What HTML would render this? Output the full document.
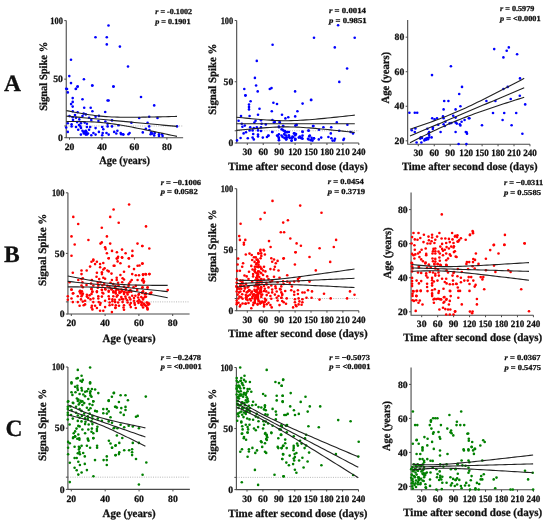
<!DOCTYPE html>
<html><head><meta charset="utf-8"><style>
html,body{margin:0;padding:0;background:#fff;}
svg{display:block;will-change:transform;}
text{font-family:"Liberation Serif", serif;font-weight:bold;text-rendering:geometricPrecision;}
</style></head><body>
<svg width="550" height="522" viewBox="0 0 550 522">
<g fill="#111"><line x1="66.25" y1="125.99" x2="183.14" y2="125.99" stroke="#999" stroke-width="0.7" stroke-dasharray="1,1.3"/>
<path d="M66.25,20.60V137.70H183.14" fill="none" stroke="#4a4a4a" stroke-width="1.1"/>
<line x1="64.25" y1="137.70" x2="66.25" y2="137.70" stroke="#4a4a4a" stroke-width="1"/>
<text x="62.85" y="140.90" text-anchor="end" font-size="9.7" stroke="#111" stroke-width="0.28">0</text>
<line x1="64.25" y1="125.99" x2="66.25" y2="125.99" stroke="#4a4a4a" stroke-width="1"/>
<line x1="64.25" y1="79.15" x2="66.25" y2="79.15" stroke="#4a4a4a" stroke-width="1"/>
<text x="62.85" y="82.35" text-anchor="end" font-size="9.7" stroke="#111" stroke-width="0.28">50</text>
<line x1="64.25" y1="20.60" x2="66.25" y2="20.60" stroke="#4a4a4a" stroke-width="1"/>
<text x="62.85" y="23.80" text-anchor="end" font-size="9.7" textLength="12.6" lengthAdjust="spacingAndGlyphs" stroke="#111" stroke-width="0.28">100</text>
<line x1="69.50" y1="137.70" x2="69.50" y2="139.70" stroke="#4a4a4a" stroke-width="1"/>
<text x="69.50" y="149.80" text-anchor="middle" font-size="9.7" stroke="#111" stroke-width="0.28">20</text>
<line x1="101.97" y1="137.70" x2="101.97" y2="139.70" stroke="#4a4a4a" stroke-width="1"/>
<text x="101.97" y="149.80" text-anchor="middle" font-size="9.7" stroke="#111" stroke-width="0.28">40</text>
<line x1="134.44" y1="137.70" x2="134.44" y2="139.70" stroke="#4a4a4a" stroke-width="1"/>
<text x="134.44" y="149.80" text-anchor="middle" font-size="9.7" stroke="#111" stroke-width="0.28">60</text>
<line x1="166.91" y1="137.70" x2="166.91" y2="139.70" stroke="#4a4a4a" stroke-width="1"/>
<text x="166.91" y="149.80" text-anchor="middle" font-size="9.7" stroke="#111" stroke-width="0.28">80</text>
<text x="99.30" y="163.70" font-size="11.2" textLength="50.60" lengthAdjust="spacingAndGlyphs" stroke="#111" stroke-width="0.28">Age (years)</text>
<text transform="translate(47.36,76.30) rotate(-90)" text-anchor="middle" font-size="11.2" textLength="69.00" lengthAdjust="spacingAndGlyphs" stroke="#111" stroke-width="0.28">Signal Spike %</text>
<text x="155.20" y="13.70" font-size="7.6" textLength="36.90" lengthAdjust="spacingAndGlyphs" stroke="#111" stroke-width="0.28"><tspan font-style="italic">r</tspan> = -0.1002</text>
<text x="155.20" y="23.50" font-size="7.6" textLength="35.30" lengthAdjust="spacingAndGlyphs" stroke="#111" stroke-width="0.28"><tspan font-style="italic">p</tspan> = 0.1901</text></g>
<g fill="#0000ff"><circle cx="108.5" cy="25.5" r="1.3"/><circle cx="95.5" cy="37.2" r="1.3"/><circle cx="106.8" cy="37.2" r="1.3"/><circle cx="106.8" cy="44.4" r="1.3"/><circle cx="119.9" cy="46.6" r="1.3"/><circle cx="71.0" cy="59.7" r="1.3"/><circle cx="128.0" cy="66.5" r="1.3"/><circle cx="69.3" cy="76.1" r="1.3"/><circle cx="83.9" cy="79.3" r="1.3"/><circle cx="71.0" cy="83.1" r="1.3"/><circle cx="77.6" cy="86.5" r="1.3"/><circle cx="92.2" cy="85.5" r="1.3"/><circle cx="113.3" cy="86.5" r="1.3"/><circle cx="75.8" cy="89.0" r="1.3"/><circle cx="67.0" cy="89.0" r="1.3"/><circle cx="66.2" cy="88.8" r="1.3"/><circle cx="67.8" cy="92.4" r="1.3"/><circle cx="76.0" cy="88.8" r="1.3"/><circle cx="77.6" cy="86.6" r="1.3"/><circle cx="92.4" cy="85.5" r="1.3"/><circle cx="113.6" cy="86.6" r="1.3"/><circle cx="72.7" cy="98.1" r="1.3"/><circle cx="82.5" cy="99.2" r="1.3"/><circle cx="107.6" cy="100.5" r="1.3"/><circle cx="108.6" cy="100.5" r="1.3"/><circle cx="72.7" cy="101.9" r="1.3"/><circle cx="71.1" cy="104.1" r="1.3"/><circle cx="72.7" cy="106.6" r="1.3"/><circle cx="84.2" cy="107.7" r="1.3"/><circle cx="90.7" cy="107.7" r="1.3"/><circle cx="92.4" cy="111.2" r="1.3"/><circle cx="105.2" cy="112.0" r="1.3"/><circle cx="72.7" cy="111.2" r="1.3"/><circle cx="77.6" cy="112.3" r="1.3"/><circle cx="83.6" cy="113.6" r="1.3"/><circle cx="85.8" cy="114.4" r="1.3"/><circle cx="69.5" cy="116.1" r="1.3"/><circle cx="72.7" cy="117.2" r="1.3"/><circle cx="76.0" cy="117.7" r="1.3"/><circle cx="82.5" cy="116.1" r="1.3"/><circle cx="89.1" cy="117.7" r="1.3"/><circle cx="95.6" cy="116.8" r="1.3"/><circle cx="98.9" cy="115.9" r="1.3"/><circle cx="79.3" cy="119.4" r="1.3"/><circle cx="91.3" cy="119.9" r="1.3"/><circle cx="98.4" cy="121.0" r="1.3"/><circle cx="112.0" cy="120.4" r="1.3"/><circle cx="67.8" cy="123.2" r="1.3"/><circle cx="71.6" cy="124.3" r="1.3"/><circle cx="77.1" cy="122.1" r="1.3"/><circle cx="80.9" cy="123.2" r="1.3"/><circle cx="84.7" cy="122.6" r="1.3"/><circle cx="86.9" cy="123.7" r="1.3"/><circle cx="105.4" cy="121.5" r="1.3"/><circle cx="107.6" cy="123.7" r="1.3"/><circle cx="118.5" cy="125.3" r="1.3"/><circle cx="66.2" cy="127.5" r="1.3"/><circle cx="71.6" cy="126.4" r="1.3"/><circle cx="76.0" cy="127.0" r="1.3"/><circle cx="80.4" cy="126.4" r="1.3"/><circle cx="86.9" cy="127.0" r="1.3"/><circle cx="90.2" cy="127.0" r="1.3"/><circle cx="95.6" cy="128.1" r="1.3"/><circle cx="102.2" cy="127.0" r="1.3"/><circle cx="107.6" cy="126.4" r="1.3"/><circle cx="112.0" cy="126.4" r="1.3"/><circle cx="78.2" cy="129.7" r="1.3"/><circle cx="82.5" cy="130.8" r="1.3"/><circle cx="85.8" cy="130.8" r="1.3"/><circle cx="89.1" cy="129.7" r="1.3"/><circle cx="103.3" cy="129.2" r="1.3"/><circle cx="67.8" cy="131.9" r="1.3"/><circle cx="83.6" cy="132.4" r="1.3"/><circle cx="85.8" cy="133.0" r="1.3"/><circle cx="88.0" cy="133.5" r="1.3"/><circle cx="93.4" cy="133.0" r="1.3"/><circle cx="98.9" cy="131.9" r="1.3"/><circle cx="102.7" cy="133.0" r="1.3"/><circle cx="106.5" cy="133.0" r="1.3"/><circle cx="114.2" cy="131.9" r="1.3"/><circle cx="117.4" cy="130.8" r="1.3"/><circle cx="120.7" cy="133.0" r="1.3"/><circle cx="123.4" cy="134.6" r="1.3"/><circle cx="80.9" cy="134.6" r="1.3"/><circle cx="85.8" cy="134.6" r="1.3"/><circle cx="91.3" cy="135.2" r="1.3"/><circle cx="95.6" cy="134.6" r="1.3"/><circle cx="102.2" cy="135.2" r="1.3"/><circle cx="108.7" cy="134.6" r="1.3"/><circle cx="116.3" cy="133.5" r="1.3"/><circle cx="84.5" cy="131.5" r="1.3"/><circle cx="86.5" cy="132.0" r="1.3"/><circle cx="84.0" cy="133.5" r="1.3"/><circle cx="87.0" cy="134.5" r="1.3"/><circle cx="81.0" cy="128.0" r="1.3"/><circle cx="79.0" cy="125.0" r="1.3"/><circle cx="73.0" cy="120.0" r="1.3"/><circle cx="75.0" cy="115.0" r="1.3"/><circle cx="141.0" cy="97.0" r="1.3"/><circle cx="154.2" cy="105.4" r="1.3"/><circle cx="139.2" cy="118.0" r="1.3"/><circle cx="149.2" cy="116.8" r="1.3"/><circle cx="157.5" cy="118.0" r="1.3"/><circle cx="131.4" cy="122.8" r="1.3"/><circle cx="147.6" cy="122.8" r="1.3"/><circle cx="149.2" cy="126.4" r="1.3"/><circle cx="177.0" cy="126.4" r="1.3"/><circle cx="145.8" cy="128.8" r="1.3"/><circle cx="149.4" cy="130.0" r="1.3"/><circle cx="142.8" cy="132.4" r="1.3"/><circle cx="151.2" cy="132.4" r="1.3"/><circle cx="150.6" cy="134.2" r="1.3"/><circle cx="154.8" cy="133.0" r="1.3"/><circle cx="154.2" cy="135.4" r="1.3"/><circle cx="159.0" cy="134.2" r="1.3"/><circle cx="162.0" cy="134.2" r="1.3"/><circle cx="121.2" cy="134.2" r="1.3"/><circle cx="123.0" cy="134.2" r="1.3"/><circle cx="128.4" cy="134.2" r="1.3"/><circle cx="129.6" cy="133.0" r="1.3"/><circle cx="159.0" cy="136.0" r="1.3"/><circle cx="162.6" cy="136.0" r="1.3"/><circle cx="152.4" cy="133.6" r="1.3"/></g>
<g><path d="M66.40,110.60 L69.24,111.15 L72.07,111.70 L74.91,112.23 L77.74,112.76 L80.58,113.26 L83.42,113.75 L86.25,114.22 L89.09,114.67 L91.92,115.08 L94.76,115.46 L97.59,115.81 L100.43,116.12 L103.27,116.38 L106.10,116.61 L108.94,116.80 L111.77,116.95 L114.61,117.06 L117.45,117.15 L120.28,117.21 L123.12,117.26 L125.95,117.28 L128.79,117.29 L131.63,117.28 L134.46,117.27 L137.30,117.24 L140.13,117.21 L142.97,117.17 L145.81,117.12 L148.64,117.07 L151.48,117.02 L154.31,116.96 L157.15,116.90 L159.98,116.83 L162.82,116.76 L165.66,116.70 L168.49,116.62 L171.33,116.55 L174.16,116.48 L177.00,116.40" fill="none" stroke="#222" stroke-width="1.1"/>
<path d="M66.40,116.10 L69.24,116.36 L72.07,116.63 L74.91,116.89 L77.74,117.16 L80.58,117.42 L83.42,117.68 L86.25,117.95 L89.09,118.21 L91.92,118.48 L94.76,118.74 L97.59,119.01 L100.43,119.27 L103.27,119.53 L106.10,119.80 L108.94,120.06 L111.77,120.33 L114.61,120.59 L117.45,120.85 L120.28,121.12 L123.12,121.38 L125.95,121.65 L128.79,121.91 L131.63,122.17 L134.46,122.44 L137.30,122.70 L140.13,122.97 L142.97,123.23 L145.81,123.49 L148.64,123.76 L151.48,124.02 L154.31,124.29 L157.15,124.55 L159.98,124.82 L162.82,125.08 L165.66,125.34 L168.49,125.61 L171.33,125.87 L174.16,126.14 L177.00,126.40" fill="none" stroke="#222" stroke-width="1.1"/>
<path d="M66.40,121.60 L69.24,121.57 L72.07,121.56 L74.91,121.55 L77.74,121.56 L80.58,121.58 L83.42,121.62 L86.25,121.68 L89.09,121.76 L91.92,121.87 L94.76,122.02 L97.59,122.20 L100.43,122.42 L103.27,122.68 L106.10,122.99 L108.94,123.33 L111.77,123.71 L114.61,124.12 L117.45,124.56 L120.28,125.02 L123.12,125.51 L125.95,126.01 L128.79,126.53 L131.63,127.07 L134.46,127.61 L137.30,128.17 L140.13,128.73 L142.97,129.29 L145.81,129.87 L148.64,130.45 L151.48,131.03 L154.31,131.62 L157.15,132.21 L159.98,132.80 L162.82,133.39 L165.66,133.99 L168.49,134.59 L171.33,135.19 L174.16,135.80 L177.00,136.40" fill="none" stroke="#222" stroke-width="1.1"/></g>
<g fill="#111"><line x1="236.68" y1="130.75" x2="358.81" y2="130.75" stroke="#999" stroke-width="0.7" stroke-dasharray="1,1.3"/>
<path d="M236.68,20.50V143.00H358.81" fill="none" stroke="#4a4a4a" stroke-width="1.1"/>
<line x1="234.68" y1="143.00" x2="236.68" y2="143.00" stroke="#4a4a4a" stroke-width="1"/>
<text x="233.28" y="146.20" text-anchor="end" font-size="9.7" stroke="#111" stroke-width="0.28">0</text>
<line x1="234.68" y1="130.75" x2="236.68" y2="130.75" stroke="#4a4a4a" stroke-width="1"/>
<line x1="234.68" y1="81.75" x2="236.68" y2="81.75" stroke="#4a4a4a" stroke-width="1"/>
<text x="233.28" y="84.95" text-anchor="end" font-size="9.7" stroke="#111" stroke-width="0.28">50</text>
<line x1="234.68" y1="20.50" x2="236.68" y2="20.50" stroke="#4a4a4a" stroke-width="1"/>
<text x="233.28" y="23.70" text-anchor="end" font-size="9.7" textLength="12.6" lengthAdjust="spacingAndGlyphs" stroke="#111" stroke-width="0.28">100</text>
<line x1="247.30" y1="143.00" x2="247.30" y2="145.00" stroke="#4a4a4a" stroke-width="1"/>
<text x="247.30" y="155.10" text-anchor="middle" font-size="9.7" stroke="#111" stroke-width="0.28">30</text>
<line x1="263.23" y1="143.00" x2="263.23" y2="145.00" stroke="#4a4a4a" stroke-width="1"/>
<text x="263.23" y="155.10" text-anchor="middle" font-size="9.7" stroke="#111" stroke-width="0.28">60</text>
<line x1="279.16" y1="143.00" x2="279.16" y2="145.00" stroke="#4a4a4a" stroke-width="1"/>
<text x="279.16" y="155.10" text-anchor="middle" font-size="9.7" stroke="#111" stroke-width="0.28">90</text>
<line x1="295.09" y1="143.00" x2="295.09" y2="145.00" stroke="#4a4a4a" stroke-width="1"/>
<text x="295.09" y="155.10" text-anchor="middle" font-size="9.7" textLength="13.6" lengthAdjust="spacingAndGlyphs" stroke="#111" stroke-width="0.28">120</text>
<line x1="311.02" y1="143.00" x2="311.02" y2="145.00" stroke="#4a4a4a" stroke-width="1"/>
<text x="311.02" y="155.10" text-anchor="middle" font-size="9.7" textLength="13.6" lengthAdjust="spacingAndGlyphs" stroke="#111" stroke-width="0.28">150</text>
<line x1="326.95" y1="143.00" x2="326.95" y2="145.00" stroke="#4a4a4a" stroke-width="1"/>
<text x="326.95" y="155.10" text-anchor="middle" font-size="9.7" textLength="13.6" lengthAdjust="spacingAndGlyphs" stroke="#111" stroke-width="0.28">180</text>
<line x1="342.88" y1="143.00" x2="342.88" y2="145.00" stroke="#4a4a4a" stroke-width="1"/>
<text x="342.88" y="155.10" text-anchor="middle" font-size="9.7" textLength="13.6" lengthAdjust="spacingAndGlyphs" stroke="#111" stroke-width="0.28">210</text>
<line x1="358.81" y1="143.00" x2="358.81" y2="145.00" stroke="#4a4a4a" stroke-width="1"/>
<text x="358.81" y="155.10" text-anchor="middle" font-size="9.7" textLength="13.6" lengthAdjust="spacingAndGlyphs" stroke="#111" stroke-width="0.28">240</text>
<text x="228.30" y="169.70" font-size="11.2" textLength="139.50" lengthAdjust="spacingAndGlyphs" stroke="#111" stroke-width="0.28">Time after second dose (days)</text>
<text transform="translate(216.46,79.15) rotate(-90)" text-anchor="middle" font-size="11.2" textLength="71.00" lengthAdjust="spacingAndGlyphs" stroke="#111" stroke-width="0.28">Signal Spike %</text>
<text x="329.00" y="12.90" font-size="7.6" textLength="37.00" lengthAdjust="spacingAndGlyphs" stroke="#111" stroke-width="0.28"><tspan font-style="italic">r</tspan> = 0.0014</text>
<text x="329.00" y="22.90" font-size="7.6" textLength="37.60" lengthAdjust="spacingAndGlyphs" stroke="#111" stroke-width="0.28"><tspan font-style="italic">p</tspan> = 0.9851</text></g>
<g fill="#0000ff"><circle cx="338.1" cy="25.2" r="1.3"/><circle cx="314.0" cy="37.7" r="1.3"/><circle cx="354.7" cy="37.7" r="1.3"/><circle cx="272.6" cy="44.8" r="1.3"/><circle cx="334.8" cy="47.4" r="1.3"/><circle cx="256.8" cy="60.9" r="1.3"/><circle cx="347.1" cy="68.5" r="1.3"/><circle cx="254.9" cy="77.9" r="1.3"/><circle cx="339.3" cy="81.9" r="1.3"/><circle cx="256.1" cy="85.5" r="1.3"/><circle cx="244.3" cy="89.0" r="1.3"/><circle cx="271.5" cy="88.1" r="1.3"/><circle cx="269.8" cy="89.0" r="1.3"/><circle cx="257.7" cy="91.4" r="1.3"/><circle cx="295.1" cy="91.4" r="1.3"/><circle cx="245.5" cy="95.2" r="1.3"/><circle cx="311.2" cy="99.9" r="1.3"/><circle cx="245.4" cy="95.6" r="1.3"/><circle cx="250.6" cy="101.2" r="1.3"/><circle cx="249.0" cy="104.6" r="1.3"/><circle cx="249.0" cy="107.0" r="1.3"/><circle cx="249.0" cy="109.4" r="1.3"/><circle cx="259.5" cy="108.8" r="1.3"/><circle cx="273.4" cy="102.8" r="1.3"/><circle cx="277.0" cy="104.0" r="1.3"/><circle cx="271.8" cy="111.2" r="1.3"/><circle cx="297.4" cy="111.2" r="1.3"/><circle cx="241.0" cy="116.0" r="1.3"/><circle cx="249.6" cy="116.0" r="1.3"/><circle cx="258.0" cy="114.8" r="1.3"/><circle cx="282.0" cy="114.8" r="1.3"/><circle cx="285.4" cy="118.4" r="1.3"/><circle cx="288.3" cy="117.2" r="1.3"/><circle cx="295.2" cy="116.4" r="1.3"/><circle cx="238.6" cy="120.8" r="1.3"/><circle cx="255.6" cy="120.8" r="1.3"/><circle cx="261.0" cy="120.2" r="1.3"/><circle cx="272.4" cy="120.0" r="1.3"/><circle cx="274.8" cy="122.0" r="1.3"/><circle cx="279.6" cy="122.0" r="1.3"/><circle cx="241.8" cy="123.8" r="1.3"/><circle cx="244.8" cy="125.6" r="1.3"/><circle cx="254.4" cy="122.6" r="1.3"/><circle cx="261.6" cy="123.8" r="1.3"/><circle cx="265.8" cy="124.4" r="1.3"/><circle cx="283.2" cy="126.0" r="1.3"/><circle cx="296.4" cy="125.0" r="1.3"/><circle cx="242.4" cy="126.8" r="1.3"/><circle cx="250.2" cy="127.2" r="1.3"/><circle cx="253.8" cy="128.0" r="1.3"/><circle cx="256.8" cy="127.4" r="1.3"/><circle cx="261.0" cy="127.2" r="1.3"/><circle cx="279.0" cy="127.2" r="1.3"/><circle cx="249.6" cy="130.4" r="1.3"/><circle cx="252.6" cy="130.4" r="1.3"/><circle cx="258.0" cy="130.4" r="1.3"/><circle cx="261.0" cy="131.0" r="1.3"/><circle cx="282.6" cy="129.8" r="1.3"/><circle cx="285.0" cy="131.0" r="1.3"/><circle cx="246.0" cy="132.2" r="1.3"/><circle cx="243.6" cy="133.4" r="1.3"/><circle cx="253.2" cy="134.0" r="1.3"/><circle cx="258.0" cy="134.6" r="1.3"/><circle cx="272.4" cy="132.0" r="1.3"/><circle cx="286.8" cy="132.2" r="1.3"/><circle cx="294.6" cy="133.4" r="1.3"/><circle cx="284.4" cy="134.6" r="1.3"/><circle cx="252.6" cy="137.6" r="1.3"/><circle cx="258.0" cy="136.4" r="1.3"/><circle cx="262.8" cy="137.6" r="1.3"/><circle cx="268.2" cy="135.8" r="1.3"/><circle cx="267.0" cy="137.0" r="1.3"/><circle cx="277.8" cy="135.8" r="1.3"/><circle cx="278.7" cy="137.6" r="1.3"/><circle cx="282.6" cy="137.0" r="1.3"/><circle cx="286.2" cy="137.6" r="1.3"/><circle cx="289.2" cy="137.0" r="1.3"/><circle cx="293.4" cy="137.0" r="1.3"/><circle cx="298.8" cy="137.6" r="1.3"/><circle cx="240.6" cy="138.0" r="1.3"/><circle cx="247.8" cy="138.2" r="1.3"/><circle cx="253.8" cy="139.4" r="1.3"/><circle cx="279.0" cy="140.0" r="1.3"/><circle cx="286.2" cy="139.4" r="1.3"/><circle cx="291.6" cy="140.6" r="1.3"/><circle cx="295.2" cy="139.4" r="1.3"/><circle cx="237.0" cy="140.4" r="1.3"/><circle cx="311.0" cy="100.0" r="1.3"/><circle cx="302.6" cy="103.6" r="1.3"/><circle cx="296.6" cy="124.8" r="1.3"/><circle cx="313.4" cy="126.0" r="1.3"/><circle cx="323.4" cy="127.2" r="1.3"/><circle cx="331.2" cy="127.2" r="1.3"/><circle cx="336.8" cy="122.4" r="1.3"/><circle cx="347.4" cy="124.8" r="1.3"/><circle cx="302.6" cy="132.0" r="1.3"/><circle cx="308.6" cy="130.8" r="1.3"/><circle cx="319.0" cy="129.8" r="1.3"/><circle cx="330.8" cy="133.4" r="1.3"/><circle cx="339.2" cy="130.8" r="1.3"/><circle cx="350.6" cy="132.0" r="1.3"/><circle cx="353.0" cy="133.4" r="1.3"/><circle cx="300.2" cy="137.0" r="1.3"/><circle cx="302.0" cy="138.2" r="1.3"/><circle cx="309.2" cy="136.4" r="1.3"/><circle cx="308.6" cy="139.4" r="1.3"/><circle cx="311.6" cy="140.0" r="1.3"/><circle cx="314.0" cy="138.2" r="1.3"/><circle cx="318.8" cy="139.4" r="1.3"/><circle cx="321.2" cy="137.6" r="1.3"/><circle cx="328.4" cy="137.0" r="1.3"/><circle cx="331.4" cy="138.2" r="1.3"/><circle cx="332.6" cy="140.6" r="1.3"/><circle cx="335.0" cy="138.8" r="1.3"/><circle cx="334.4" cy="140.6" r="1.3"/><circle cx="344.0" cy="138.8" r="1.3"/><circle cx="343.4" cy="140.0" r="1.3"/><circle cx="296.0" cy="134.0" r="1.3"/><circle cx="273.9" cy="122.5" r="1.3"/><circle cx="279.8" cy="122.5" r="1.3"/><circle cx="278.9" cy="126.5" r="1.3"/><circle cx="283.0" cy="126.1" r="1.3"/><circle cx="295.3" cy="125.6" r="1.3"/><circle cx="313.0" cy="126.1" r="1.3"/><circle cx="272.1" cy="132.0" r="1.3"/><circle cx="281.6" cy="129.3" r="1.3"/><circle cx="283.5" cy="130.6" r="1.3"/><circle cx="285.3" cy="132.0" r="1.3"/><circle cx="287.1" cy="132.0" r="1.3"/><circle cx="288.9" cy="132.0" r="1.3"/><circle cx="293.9" cy="133.4" r="1.3"/><circle cx="302.5" cy="131.5" r="1.3"/><circle cx="308.5" cy="130.6" r="1.3"/><circle cx="268.5" cy="135.6" r="1.3"/><circle cx="277.1" cy="135.6" r="1.3"/><circle cx="278.9" cy="134.3" r="1.3"/><circle cx="281.6" cy="135.6" r="1.3"/><circle cx="284.4" cy="133.8" r="1.3"/><circle cx="286.2" cy="135.6" r="1.3"/><circle cx="288.9" cy="135.2" r="1.3"/><circle cx="292.5" cy="136.5" r="1.3"/><circle cx="295.3" cy="135.2" r="1.3"/><circle cx="299.8" cy="136.5" r="1.3"/><circle cx="302.5" cy="135.6" r="1.3"/><circle cx="309.8" cy="135.6" r="1.3"/><circle cx="278.9" cy="137.9" r="1.3"/><circle cx="284.4" cy="137.9" r="1.3"/><circle cx="287.1" cy="137.5" r="1.3"/><circle cx="289.8" cy="137.9" r="1.3"/><circle cx="292.1" cy="137.9" r="1.3"/><circle cx="295.3" cy="138.8" r="1.3"/><circle cx="300.7" cy="137.9" r="1.3"/><circle cx="302.5" cy="138.8" r="1.3"/><circle cx="308.0" cy="138.8" r="1.3"/><circle cx="311.6" cy="137.9" r="1.3"/><circle cx="313.9" cy="138.4" r="1.3"/><circle cx="278.9" cy="140.2" r="1.3"/><circle cx="286.2" cy="139.3" r="1.3"/><circle cx="291.6" cy="140.6" r="1.3"/><circle cx="295.3" cy="139.7" r="1.3"/><circle cx="310.7" cy="140.2" r="1.3"/><circle cx="312.5" cy="140.6" r="1.3"/></g>
<g><path d="M236.40,117.20 L239.44,117.51 L242.47,117.82 L245.51,118.12 L248.54,118.42 L251.58,118.71 L254.62,118.99 L257.65,119.26 L260.69,119.51 L263.72,119.75 L266.76,119.97 L269.79,120.17 L272.83,120.35 L275.87,120.49 L278.90,120.60 L281.94,120.68 L284.97,120.71 L288.01,120.71 L291.05,120.66 L294.08,120.57 L297.12,120.45 L300.15,120.30 L303.19,120.11 L306.23,119.91 L309.26,119.68 L312.30,119.44 L315.33,119.18 L318.37,118.91 L321.41,118.62 L324.44,118.33 L327.48,118.04 L330.51,117.73 L333.55,117.42 L336.58,117.11 L339.62,116.79 L342.66,116.47 L345.69,116.14 L348.73,115.81 L351.76,115.48 L354.80,115.15" fill="none" stroke="#222" stroke-width="1.1"/>
<path d="M236.40,123.80 L239.44,123.80 L242.47,123.80 L245.51,123.80 L248.54,123.80 L251.58,123.80 L254.62,123.80 L257.65,123.80 L260.69,123.80 L263.72,123.80 L266.76,123.80 L269.79,123.80 L272.83,123.80 L275.87,123.80 L278.90,123.80 L281.94,123.80 L284.97,123.80 L288.01,123.80 L291.05,123.80 L294.08,123.80 L297.12,123.80 L300.15,123.80 L303.19,123.80 L306.23,123.80 L309.26,123.80 L312.30,123.80 L315.33,123.80 L318.37,123.80 L321.41,123.80 L324.44,123.80 L327.48,123.80 L330.51,123.80 L333.55,123.80 L336.58,123.80 L339.62,123.80 L342.66,123.80 L345.69,123.80 L348.73,123.80 L351.76,123.80 L354.80,123.80" fill="none" stroke="#222" stroke-width="1.1"/>
<path d="M236.40,130.40 L239.44,130.09 L242.47,129.78 L245.51,129.48 L248.54,129.18 L251.58,128.89 L254.62,128.61 L257.65,128.34 L260.69,128.09 L263.72,127.85 L266.76,127.63 L269.79,127.43 L272.83,127.25 L275.87,127.11 L278.90,127.00 L281.94,126.92 L284.97,126.89 L288.01,126.89 L291.05,126.94 L294.08,127.03 L297.12,127.15 L300.15,127.30 L303.19,127.49 L306.23,127.69 L309.26,127.92 L312.30,128.16 L315.33,128.42 L318.37,128.69 L321.41,128.98 L324.44,129.27 L327.48,129.56 L330.51,129.87 L333.55,130.18 L336.58,130.49 L339.62,130.81 L342.66,131.13 L345.69,131.46 L348.73,131.79 L351.76,132.12 L354.80,132.45" fill="none" stroke="#222" stroke-width="1.1"/></g>
<g fill="#111"><path d="M407.67,19.91V144.25H529.96" fill="none" stroke="#4a4a4a" stroke-width="1.1"/>
<line x1="405.67" y1="140.80" x2="407.67" y2="140.80" stroke="#4a4a4a" stroke-width="1"/>
<text x="404.27" y="144.00" text-anchor="end" font-size="9.7" stroke="#111" stroke-width="0.28">20</text>
<line x1="405.67" y1="106.26" x2="407.67" y2="106.26" stroke="#4a4a4a" stroke-width="1"/>
<text x="404.27" y="109.46" text-anchor="end" font-size="9.7" stroke="#111" stroke-width="0.28">40</text>
<line x1="405.67" y1="71.72" x2="407.67" y2="71.72" stroke="#4a4a4a" stroke-width="1"/>
<text x="404.27" y="74.92" text-anchor="end" font-size="9.7" stroke="#111" stroke-width="0.28">60</text>
<line x1="405.67" y1="37.18" x2="407.67" y2="37.18" stroke="#4a4a4a" stroke-width="1"/>
<text x="404.27" y="40.38" text-anchor="end" font-size="9.7" stroke="#111" stroke-width="0.28">80</text>
<line x1="418.30" y1="144.25" x2="418.30" y2="146.25" stroke="#4a4a4a" stroke-width="1"/>
<text x="418.30" y="156.35" text-anchor="middle" font-size="9.7" stroke="#111" stroke-width="0.28">30</text>
<line x1="434.25" y1="144.25" x2="434.25" y2="146.25" stroke="#4a4a4a" stroke-width="1"/>
<text x="434.25" y="156.35" text-anchor="middle" font-size="9.7" stroke="#111" stroke-width="0.28">60</text>
<line x1="450.20" y1="144.25" x2="450.20" y2="146.25" stroke="#4a4a4a" stroke-width="1"/>
<text x="450.20" y="156.35" text-anchor="middle" font-size="9.7" stroke="#111" stroke-width="0.28">90</text>
<line x1="466.15" y1="144.25" x2="466.15" y2="146.25" stroke="#4a4a4a" stroke-width="1"/>
<text x="466.15" y="156.35" text-anchor="middle" font-size="9.7" textLength="13.6" lengthAdjust="spacingAndGlyphs" stroke="#111" stroke-width="0.28">120</text>
<line x1="482.10" y1="144.25" x2="482.10" y2="146.25" stroke="#4a4a4a" stroke-width="1"/>
<text x="482.10" y="156.35" text-anchor="middle" font-size="9.7" textLength="13.6" lengthAdjust="spacingAndGlyphs" stroke="#111" stroke-width="0.28">150</text>
<line x1="498.06" y1="144.25" x2="498.06" y2="146.25" stroke="#4a4a4a" stroke-width="1"/>
<text x="498.06" y="156.35" text-anchor="middle" font-size="9.7" textLength="13.6" lengthAdjust="spacingAndGlyphs" stroke="#111" stroke-width="0.28">180</text>
<line x1="514.01" y1="144.25" x2="514.01" y2="146.25" stroke="#4a4a4a" stroke-width="1"/>
<text x="514.01" y="156.35" text-anchor="middle" font-size="9.7" textLength="13.6" lengthAdjust="spacingAndGlyphs" stroke="#111" stroke-width="0.28">210</text>
<line x1="529.96" y1="144.25" x2="529.96" y2="146.25" stroke="#4a4a4a" stroke-width="1"/>
<text x="529.96" y="156.35" text-anchor="middle" font-size="9.7" textLength="13.6" lengthAdjust="spacingAndGlyphs" stroke="#111" stroke-width="0.28">240</text>
<text x="401.90" y="169.70" font-size="11.2" textLength="135.70" lengthAdjust="spacingAndGlyphs" stroke="#111" stroke-width="0.28">Time after second dose (days)</text>
<text transform="translate(388.96,77.65) rotate(-90)" text-anchor="middle" font-size="11.2" textLength="51.50" lengthAdjust="spacingAndGlyphs" stroke="#111" stroke-width="0.28">Age (years)</text>
<text x="500.00" y="10.90" font-size="7.6" textLength="34.30" lengthAdjust="spacingAndGlyphs" stroke="#111" stroke-width="0.28"><tspan font-style="italic">r</tspan> = 0.5979</text>
<text x="500.00" y="20.70" font-size="7.6" textLength="40.60" lengthAdjust="spacingAndGlyphs" stroke="#111" stroke-width="0.28"><tspan font-style="italic">p</tspan> = &lt;0.0001</text></g>
<g fill="#0000ff"><circle cx="494.2" cy="49.1" r="1.3"/><circle cx="508.8" cy="47.4" r="1.3"/><circle cx="506.7" cy="50.7" r="1.3"/><circle cx="503.4" cy="57.4" r="1.3"/><circle cx="517.1" cy="54.3" r="1.3"/><circle cx="450.9" cy="66.3" r="1.3"/><circle cx="432.0" cy="75.1" r="1.3"/><circle cx="462.0" cy="86.9" r="1.3"/><circle cx="459.2" cy="94.0" r="1.3"/><circle cx="520.0" cy="78.4" r="1.3"/><circle cx="503.4" cy="89.0" r="1.3"/><circle cx="507.7" cy="86.9" r="1.3"/><circle cx="444.2" cy="101.0" r="1.3"/><circle cx="448.4" cy="101.0" r="1.3"/><circle cx="460.4" cy="106.2" r="1.3"/><circle cx="409.4" cy="112.8" r="1.3"/><circle cx="414.8" cy="112.8" r="1.3"/><circle cx="417.2" cy="112.8" r="1.3"/><circle cx="443.6" cy="109.4" r="1.3"/><circle cx="455.6" cy="109.4" r="1.3"/><circle cx="432.2" cy="118.2" r="1.3"/><circle cx="437.0" cy="118.2" r="1.3"/><circle cx="434.6" cy="119.4" r="1.3"/><circle cx="443.0" cy="116.4" r="1.3"/><circle cx="443.6" cy="118.2" r="1.3"/><circle cx="453.2" cy="115.8" r="1.3"/><circle cx="455.6" cy="117.6" r="1.3"/><circle cx="468.8" cy="118.2" r="1.3"/><circle cx="464.6" cy="120.0" r="1.3"/><circle cx="445.4" cy="121.8" r="1.3"/><circle cx="443.6" cy="124.2" r="1.3"/><circle cx="444.8" cy="126.0" r="1.3"/><circle cx="438.2" cy="124.8" r="1.3"/><circle cx="449.6" cy="123.4" r="1.3"/><circle cx="451.4" cy="123.0" r="1.3"/><circle cx="455.6" cy="122.4" r="1.3"/><circle cx="456.8" cy="123.6" r="1.3"/><circle cx="459.8" cy="124.2" r="1.3"/><circle cx="461.6" cy="121.8" r="1.3"/><circle cx="460.4" cy="125.4" r="1.3"/><circle cx="432.8" cy="127.2" r="1.3"/><circle cx="432.8" cy="129.0" r="1.3"/><circle cx="427.4" cy="128.7" r="1.3"/><circle cx="415.4" cy="128.4" r="1.3"/><circle cx="411.8" cy="130.2" r="1.3"/><circle cx="414.8" cy="132.0" r="1.3"/><circle cx="429.2" cy="132.0" r="1.3"/><circle cx="440.6" cy="132.0" r="1.3"/><circle cx="455.6" cy="132.0" r="1.3"/><circle cx="465.8" cy="132.0" r="1.3"/><circle cx="467.0" cy="133.8" r="1.3"/><circle cx="420.8" cy="137.4" r="1.3"/><circle cx="420.2" cy="138.6" r="1.3"/><circle cx="425.0" cy="139.2" r="1.3"/><circle cx="426.2" cy="139.8" r="1.3"/><circle cx="427.4" cy="138.0" r="1.3"/><circle cx="429.2" cy="137.4" r="1.3"/><circle cx="431.6" cy="137.4" r="1.3"/><circle cx="422.0" cy="138.0" r="1.3"/><circle cx="424.4" cy="140.4" r="1.3"/><circle cx="416.6" cy="142.5" r="1.3"/><circle cx="421.4" cy="142.5" r="1.3"/><circle cx="458.6" cy="144.0" r="1.3"/><circle cx="466.4" cy="144.0" r="1.3"/><circle cx="426.2" cy="138.6" r="1.3"/><circle cx="428.0" cy="139.2" r="1.3"/><circle cx="429.2" cy="135.0" r="1.3"/><circle cx="428.6" cy="133.2" r="1.3"/><circle cx="486.4" cy="101.0" r="1.3"/><circle cx="495.4" cy="101.0" r="1.3"/><circle cx="510.7" cy="99.0" r="1.3"/><circle cx="519.8" cy="95.8" r="1.3"/><circle cx="525.2" cy="104.4" r="1.3"/><circle cx="493.0" cy="113.0" r="1.3"/><circle cx="504.2" cy="113.0" r="1.3"/><circle cx="516.2" cy="113.0" r="1.3"/><circle cx="469.4" cy="118.2" r="1.3"/><circle cx="502.6" cy="120.0" r="1.3"/><circle cx="482.0" cy="125.2" r="1.3"/><circle cx="511.6" cy="125.2" r="1.3"/><circle cx="466.6" cy="132.2" r="1.3"/><circle cx="522.4" cy="133.8" r="1.3"/></g>
<g><path d="M410.00,129.25 L412.93,128.27 L415.86,127.29 L418.78,126.29 L421.71,125.29 L424.64,124.27 L427.57,123.24 L430.50,122.20 L433.43,121.13 L436.35,120.05 L439.28,118.95 L442.21,117.83 L445.14,116.68 L448.07,115.51 L450.99,114.31 L453.92,113.08 L456.85,111.83 L459.78,110.54 L462.71,109.24 L465.64,107.90 L468.56,106.55 L471.49,105.17 L474.42,103.77 L477.35,102.36 L480.28,100.93 L483.21,99.48 L486.13,98.02 L489.06,96.55 L491.99,95.07 L494.92,93.58 L497.85,92.08 L500.77,90.58 L503.70,89.06 L506.63,87.55 L509.56,86.02 L512.49,84.50 L515.42,82.96 L518.34,81.43 L521.27,79.89 L524.20,78.35" fill="none" stroke="#222" stroke-width="1.1"/>
<path d="M410.00,136.00 L412.93,134.76 L415.86,133.53 L418.78,132.29 L421.71,131.06 L424.64,129.82 L427.57,128.58 L430.50,127.35 L433.43,126.11 L436.35,124.88 L439.28,123.64 L442.21,122.41 L445.14,121.17 L448.07,119.93 L450.99,118.70 L453.92,117.46 L456.85,116.23 L459.78,114.99 L462.71,113.75 L465.64,112.52 L468.56,111.28 L471.49,110.05 L474.42,108.81 L477.35,107.57 L480.28,106.34 L483.21,105.10 L486.13,103.87 L489.06,102.63 L491.99,101.39 L494.92,100.16 L497.85,98.92 L500.77,97.69 L503.70,96.45 L506.63,95.22 L509.56,93.98 L512.49,92.74 L515.42,91.51 L518.34,90.27 L521.27,89.04 L524.20,87.80" fill="none" stroke="#222" stroke-width="1.1"/>
<path d="M410.00,142.75 L412.93,141.25 L415.86,139.77 L418.78,138.29 L421.71,136.82 L424.64,135.37 L427.57,133.93 L430.50,132.50 L433.43,131.09 L436.35,129.70 L439.28,128.33 L442.21,126.98 L445.14,125.66 L448.07,124.36 L450.99,123.09 L453.92,121.84 L456.85,120.63 L459.78,119.43 L462.71,118.27 L465.64,117.13 L468.56,116.02 L471.49,114.92 L474.42,113.85 L477.35,112.79 L480.28,111.75 L483.21,110.72 L486.13,109.71 L489.06,108.71 L491.99,107.72 L494.92,106.74 L497.85,105.77 L500.77,104.80 L503.70,103.84 L506.63,102.88 L509.56,101.94 L512.49,100.99 L515.42,100.05 L518.34,99.11 L521.27,98.18 L524.20,97.25" fill="none" stroke="#222" stroke-width="1.1"/></g>
<g fill="#111"><line x1="67.92" y1="301.88" x2="189.60" y2="301.88" stroke="#999" stroke-width="0.7" stroke-dasharray="1,1.3"/>
<path d="M67.92,192.80V314.00H189.60" fill="none" stroke="#4a4a4a" stroke-width="1.1"/>
<line x1="65.92" y1="314.00" x2="67.92" y2="314.00" stroke="#4a4a4a" stroke-width="1"/>
<text x="64.52" y="317.20" text-anchor="end" font-size="9.7" stroke="#111" stroke-width="0.28">0</text>
<line x1="65.92" y1="301.88" x2="67.92" y2="301.88" stroke="#4a4a4a" stroke-width="1"/>
<line x1="65.92" y1="253.40" x2="67.92" y2="253.40" stroke="#4a4a4a" stroke-width="1"/>
<text x="64.52" y="256.60" text-anchor="end" font-size="9.7" stroke="#111" stroke-width="0.28">50</text>
<line x1="65.92" y1="192.80" x2="67.92" y2="192.80" stroke="#4a4a4a" stroke-width="1"/>
<text x="64.52" y="196.00" text-anchor="end" font-size="9.7" textLength="12.6" lengthAdjust="spacingAndGlyphs" stroke="#111" stroke-width="0.28">100</text>
<line x1="71.30" y1="314.00" x2="71.30" y2="316.00" stroke="#4a4a4a" stroke-width="1"/>
<text x="71.30" y="326.10" text-anchor="middle" font-size="9.7" stroke="#111" stroke-width="0.28">20</text>
<line x1="105.10" y1="314.00" x2="105.10" y2="316.00" stroke="#4a4a4a" stroke-width="1"/>
<text x="105.10" y="326.10" text-anchor="middle" font-size="9.7" stroke="#111" stroke-width="0.28">40</text>
<line x1="138.90" y1="314.00" x2="138.90" y2="316.00" stroke="#4a4a4a" stroke-width="1"/>
<text x="138.90" y="326.10" text-anchor="middle" font-size="9.7" stroke="#111" stroke-width="0.28">60</text>
<line x1="172.70" y1="314.00" x2="172.70" y2="316.00" stroke="#4a4a4a" stroke-width="1"/>
<text x="172.70" y="326.10" text-anchor="middle" font-size="9.7" stroke="#111" stroke-width="0.28">80</text>
<text x="102.60" y="341.50" font-size="11.2" textLength="53.00" lengthAdjust="spacingAndGlyphs" stroke="#111" stroke-width="0.28">Age (years)</text>
<text transform="translate(46.46,249.80) rotate(-90)" text-anchor="middle" font-size="11.2" textLength="72.20" lengthAdjust="spacingAndGlyphs" stroke="#111" stroke-width="0.28">Signal Spike %</text>
<text x="160.70" y="184.60" font-size="7.6" textLength="40.40" lengthAdjust="spacingAndGlyphs" stroke="#111" stroke-width="0.28"><tspan font-style="italic">r</tspan> = −0.1006</text>
<text x="160.70" y="194.40" font-size="7.6" textLength="37.00" lengthAdjust="spacingAndGlyphs" stroke="#111" stroke-width="0.28"><tspan font-style="italic">p</tspan> = 0.0582</text></g>
<g fill="#ff0000"><circle cx="129.1" cy="204.5" r="1.3"/><circle cx="113.6" cy="209.5" r="1.3"/><circle cx="73.3" cy="216.9" r="1.3"/><circle cx="110.2" cy="216.9" r="1.3"/><circle cx="118.7" cy="222.7" r="1.3"/><circle cx="78.2" cy="224.0" r="1.3"/><circle cx="101.8" cy="227.8" r="1.3"/><circle cx="146.0" cy="226.4" r="1.3"/><circle cx="71.5" cy="236.4" r="1.3"/><circle cx="88.4" cy="240.0" r="1.3"/><circle cx="106.9" cy="236.4" r="1.3"/><circle cx="74.7" cy="244.5" r="1.3"/><circle cx="100.5" cy="243.6" r="1.3"/><circle cx="101.8" cy="242.4" r="1.3"/><circle cx="110.2" cy="243.6" r="1.3"/><circle cx="137.5" cy="243.6" r="1.3"/><circle cx="142.4" cy="246.0" r="1.3"/><circle cx="149.3" cy="248.5" r="1.3"/><circle cx="105.1" cy="247.3" r="1.3"/><circle cx="105.6" cy="249.1" r="1.3"/><circle cx="112.0" cy="250.9" r="1.3"/><circle cx="122.0" cy="249.6" r="1.3"/><circle cx="116.9" cy="252.2" r="1.3"/><circle cx="125.6" cy="253.3" r="1.3"/><circle cx="132.4" cy="250.9" r="1.3"/><circle cx="106.9" cy="253.3" r="1.3"/><circle cx="71.5" cy="255.8" r="1.3"/><circle cx="132.4" cy="255.8" r="1.3"/><circle cx="108.7" cy="258.2" r="1.3"/><circle cx="117.5" cy="258.2" r="1.3"/><circle cx="122.0" cy="257.3" r="1.3"/><circle cx="128.7" cy="258.2" r="1.3"/><circle cx="93.3" cy="259.5" r="1.3"/><circle cx="108.7" cy="258.2" r="1.3"/><circle cx="91.5" cy="261.8" r="1.3"/><circle cx="93.3" cy="260.6" r="1.3"/><circle cx="96.9" cy="261.8" r="1.3"/><circle cx="95.1" cy="264.1" r="1.3"/><circle cx="100.1" cy="264.1" r="1.3"/><circle cx="103.3" cy="263.0" r="1.3"/><circle cx="113.7" cy="265.7" r="1.3"/><circle cx="90.1" cy="266.6" r="1.3"/><circle cx="100.1" cy="267.3" r="1.3"/><circle cx="104.6" cy="268.2" r="1.3"/><circle cx="103.3" cy="269.5" r="1.3"/><circle cx="81.5" cy="270.5" r="1.3"/><circle cx="86.7" cy="270.5" r="1.3"/><circle cx="107.4" cy="270.5" r="1.3"/><circle cx="108.7" cy="271.4" r="1.3"/><circle cx="72.8" cy="272.7" r="1.3"/><circle cx="96.9" cy="272.7" r="1.3"/><circle cx="101.9" cy="272.3" r="1.3"/><circle cx="101.9" cy="274.1" r="1.3"/><circle cx="111.5" cy="273.6" r="1.3"/><circle cx="81.5" cy="274.1" r="1.3"/><circle cx="96.5" cy="276.8" r="1.3"/><circle cx="103.3" cy="277.7" r="1.3"/><circle cx="105.1" cy="278.8" r="1.3"/><circle cx="82.8" cy="278.2" r="1.3"/><circle cx="81.5" cy="279.1" r="1.3"/><circle cx="78.3" cy="280.0" r="1.3"/><circle cx="91.9" cy="280.0" r="1.3"/><circle cx="99.2" cy="279.1" r="1.3"/><circle cx="111.9" cy="280.0" r="1.3"/><circle cx="69.6" cy="282.3" r="1.3"/><circle cx="82.4" cy="282.3" r="1.3"/><circle cx="91.0" cy="283.6" r="1.3"/><circle cx="97.8" cy="282.7" r="1.3"/><circle cx="100.5" cy="282.3" r="1.3"/><circle cx="104.2" cy="284.1" r="1.3"/><circle cx="110.5" cy="282.7" r="1.3"/><circle cx="81.5" cy="285.5" r="1.3"/><circle cx="86.5" cy="285.0" r="1.3"/><circle cx="93.3" cy="285.5" r="1.3"/><circle cx="98.3" cy="285.5" r="1.3"/><circle cx="102.4" cy="285.5" r="1.3"/><circle cx="107.4" cy="285.9" r="1.3"/><circle cx="113.3" cy="284.1" r="1.3"/><circle cx="82.8" cy="287.3" r="1.3"/><circle cx="97.8" cy="287.7" r="1.3"/><circle cx="109.6" cy="287.3" r="1.3"/><circle cx="115.1" cy="287.3" r="1.3"/><circle cx="71.5" cy="289.5" r="1.3"/><circle cx="80.1" cy="290.9" r="1.3"/><circle cx="91.5" cy="289.1" r="1.3"/><circle cx="96.9" cy="291.4" r="1.3"/><circle cx="101.9" cy="290.0" r="1.3"/><circle cx="105.5" cy="289.5" r="1.3"/><circle cx="111.5" cy="289.5" r="1.3"/><circle cx="73.3" cy="293.2" r="1.3"/><circle cx="81.0" cy="292.3" r="1.3"/><circle cx="82.8" cy="293.6" r="1.3"/><circle cx="92.4" cy="291.8" r="1.3"/><circle cx="102.4" cy="292.7" r="1.3"/><circle cx="108.7" cy="291.8" r="1.3"/><circle cx="113.3" cy="291.4" r="1.3"/><circle cx="118.1" cy="256.8" r="1.3"/><circle cx="116.7" cy="258.6" r="1.3"/><circle cx="122.2" cy="257.7" r="1.3"/><circle cx="132.2" cy="255.9" r="1.3"/><circle cx="129.0" cy="258.5" r="1.3"/><circle cx="117.6" cy="261.4" r="1.3"/><circle cx="120.4" cy="263.2" r="1.3"/><circle cx="114.5" cy="265.7" r="1.3"/><circle cx="129.0" cy="266.6" r="1.3"/><circle cx="137.6" cy="265.7" r="1.3"/><circle cx="139.5" cy="265.5" r="1.3"/><circle cx="142.6" cy="263.6" r="1.3"/><circle cx="134.0" cy="269.1" r="1.3"/><circle cx="124.0" cy="271.8" r="1.3"/><circle cx="120.4" cy="275.0" r="1.3"/><circle cx="132.2" cy="274.1" r="1.3"/><circle cx="135.8" cy="275.2" r="1.3"/><circle cx="139.0" cy="275.2" r="1.3"/><circle cx="143.1" cy="275.0" r="1.3"/><circle cx="145.4" cy="274.1" r="1.3"/><circle cx="149.5" cy="274.1" r="1.3"/><circle cx="116.7" cy="277.7" r="1.3"/><circle cx="122.6" cy="278.2" r="1.3"/><circle cx="124.0" cy="279.5" r="1.3"/><circle cx="137.6" cy="280.0" r="1.3"/><circle cx="143.1" cy="279.1" r="1.3"/><circle cx="144.0" cy="281.4" r="1.3"/><circle cx="116.7" cy="280.0" r="1.3"/><circle cx="131.7" cy="280.0" r="1.3"/><circle cx="130.4" cy="281.8" r="1.3"/><circle cx="122.2" cy="282.3" r="1.3"/><circle cx="118.1" cy="282.7" r="1.3"/><circle cx="129.0" cy="283.6" r="1.3"/><circle cx="115.4" cy="286.4" r="1.3"/><circle cx="118.5" cy="285.5" r="1.3"/><circle cx="124.0" cy="286.8" r="1.3"/><circle cx="128.5" cy="285.9" r="1.3"/><circle cx="133.5" cy="287.3" r="1.3"/><circle cx="135.8" cy="285.9" r="1.3"/><circle cx="142.6" cy="287.3" r="1.3"/><circle cx="147.6" cy="287.3" r="1.3"/><circle cx="116.7" cy="289.5" r="1.3"/><circle cx="121.3" cy="289.5" r="1.3"/><circle cx="125.8" cy="289.1" r="1.3"/><circle cx="130.4" cy="290.0" r="1.3"/><circle cx="137.2" cy="290.0" r="1.3"/><circle cx="115.4" cy="292.3" r="1.3"/><circle cx="119.5" cy="291.8" r="1.3"/><circle cx="124.0" cy="292.3" r="1.3"/><circle cx="128.5" cy="292.3" r="1.3"/><circle cx="131.3" cy="291.8" r="1.3"/><circle cx="139.0" cy="294.1" r="1.3"/><circle cx="143.1" cy="291.4" r="1.3"/><circle cx="145.8" cy="293.2" r="1.3"/><circle cx="150.4" cy="293.2" r="1.3"/><circle cx="71.5" cy="289.8" r="1.3"/><circle cx="79.6" cy="291.6" r="1.3"/><circle cx="81.9" cy="291.2" r="1.3"/><circle cx="91.5" cy="288.9" r="1.3"/><circle cx="92.4" cy="291.6" r="1.3"/><circle cx="96.9" cy="292.1" r="1.3"/><circle cx="101.9" cy="289.8" r="1.3"/><circle cx="103.3" cy="293.5" r="1.3"/><circle cx="105.1" cy="288.9" r="1.3"/><circle cx="108.7" cy="290.7" r="1.3"/><circle cx="111.5" cy="288.9" r="1.3"/><circle cx="113.3" cy="292.5" r="1.3"/><circle cx="72.8" cy="293.5" r="1.3"/><circle cx="80.5" cy="293.5" r="1.3"/><circle cx="82.4" cy="294.8" r="1.3"/><circle cx="86.9" cy="294.8" r="1.3"/><circle cx="89.6" cy="295.3" r="1.3"/><circle cx="91.5" cy="293.9" r="1.3"/><circle cx="67.8" cy="296.2" r="1.3"/><circle cx="77.8" cy="296.2" r="1.3"/><circle cx="81.5" cy="296.2" r="1.3"/><circle cx="86.9" cy="296.6" r="1.3"/><circle cx="88.3" cy="298.0" r="1.3"/><circle cx="98.3" cy="296.2" r="1.3"/><circle cx="101.9" cy="296.6" r="1.3"/><circle cx="108.7" cy="296.2" r="1.3"/><circle cx="113.3" cy="296.2" r="1.3"/><circle cx="71.5" cy="298.5" r="1.3"/><circle cx="81.0" cy="299.4" r="1.3"/><circle cx="90.5" cy="299.4" r="1.3"/><circle cx="93.3" cy="298.5" r="1.3"/><circle cx="98.3" cy="298.5" r="1.3"/><circle cx="67.8" cy="299.8" r="1.3"/><circle cx="109.2" cy="298.9" r="1.3"/><circle cx="112.4" cy="299.4" r="1.3"/><circle cx="72.8" cy="302.1" r="1.3"/><circle cx="77.8" cy="302.1" r="1.3"/><circle cx="82.8" cy="301.6" r="1.3"/><circle cx="85.1" cy="300.7" r="1.3"/><circle cx="93.3" cy="302.1" r="1.3"/><circle cx="98.7" cy="302.1" r="1.3"/><circle cx="100.5" cy="303.0" r="1.3"/><circle cx="105.1" cy="300.7" r="1.3"/><circle cx="109.6" cy="302.5" r="1.3"/><circle cx="112.4" cy="301.2" r="1.3"/><circle cx="115.1" cy="302.1" r="1.3"/><circle cx="100.1" cy="304.8" r="1.3"/><circle cx="79.6" cy="305.7" r="1.3"/><circle cx="83.7" cy="305.3" r="1.3"/><circle cx="85.1" cy="304.4" r="1.3"/><circle cx="91.9" cy="305.7" r="1.3"/><circle cx="95.1" cy="305.7" r="1.3"/><circle cx="109.6" cy="305.3" r="1.3"/><circle cx="112.4" cy="304.8" r="1.3"/><circle cx="91.5" cy="307.5" r="1.3"/><circle cx="92.4" cy="309.4" r="1.3"/><circle cx="96.9" cy="308.0" r="1.3"/><circle cx="105.1" cy="307.1" r="1.3"/><circle cx="115.5" cy="307.5" r="1.3"/><circle cx="100.1" cy="310.7" r="1.3"/><circle cx="103.3" cy="310.7" r="1.3"/><circle cx="111.9" cy="312.1" r="1.3"/><circle cx="115.8" cy="290.7" r="1.3"/><circle cx="118.5" cy="289.8" r="1.3"/><circle cx="122.2" cy="290.7" r="1.3"/><circle cx="125.8" cy="289.8" r="1.3"/><circle cx="129.0" cy="291.6" r="1.3"/><circle cx="115.8" cy="293.5" r="1.3"/><circle cx="119.5" cy="293.0" r="1.3"/><circle cx="124.0" cy="293.9" r="1.3"/><circle cx="127.6" cy="294.4" r="1.3"/><circle cx="132.2" cy="295.7" r="1.3"/><circle cx="135.4" cy="295.7" r="1.3"/><circle cx="138.5" cy="294.8" r="1.3"/><circle cx="142.2" cy="293.0" r="1.3"/><circle cx="144.9" cy="294.4" r="1.3"/><circle cx="150.4" cy="293.9" r="1.3"/><circle cx="116.7" cy="296.6" r="1.3"/><circle cx="121.3" cy="297.1" r="1.3"/><circle cx="125.4" cy="296.6" r="1.3"/><circle cx="129.5" cy="297.5" r="1.3"/><circle cx="134.0" cy="298.0" r="1.3"/><circle cx="138.1" cy="297.5" r="1.3"/><circle cx="141.3" cy="297.1" r="1.3"/><circle cx="144.9" cy="297.1" r="1.3"/><circle cx="114.9" cy="299.8" r="1.3"/><circle cx="119.5" cy="299.8" r="1.3"/><circle cx="123.1" cy="299.4" r="1.3"/><circle cx="127.2" cy="300.3" r="1.3"/><circle cx="134.0" cy="300.7" r="1.3"/><circle cx="139.0" cy="299.8" r="1.3"/><circle cx="143.1" cy="299.4" r="1.3"/><circle cx="118.1" cy="302.5" r="1.3"/><circle cx="122.6" cy="302.1" r="1.3"/><circle cx="127.6" cy="302.5" r="1.3"/><circle cx="130.8" cy="303.0" r="1.3"/><circle cx="134.5" cy="303.0" r="1.3"/><circle cx="138.5" cy="303.0" r="1.3"/><circle cx="142.2" cy="302.5" r="1.3"/><circle cx="146.7" cy="302.5" r="1.3"/><circle cx="149.0" cy="303.5" r="1.3"/><circle cx="115.8" cy="305.3" r="1.3"/><circle cx="119.0" cy="305.7" r="1.3"/><circle cx="124.0" cy="305.3" r="1.3"/><circle cx="129.9" cy="304.8" r="1.3"/><circle cx="134.9" cy="304.8" r="1.3"/><circle cx="141.3" cy="304.8" r="1.3"/><circle cx="144.9" cy="305.3" r="1.3"/><circle cx="148.1" cy="304.8" r="1.3"/><circle cx="115.4" cy="308.0" r="1.3"/><circle cx="123.5" cy="307.5" r="1.3"/><circle cx="130.8" cy="307.1" r="1.3"/><circle cx="135.8" cy="308.0" r="1.3"/><circle cx="143.1" cy="307.5" r="1.3"/><circle cx="147.2" cy="307.5" r="1.3"/><circle cx="124.0" cy="309.8" r="1.3"/><circle cx="147.6" cy="309.4" r="1.3"/><circle cx="151.3" cy="292.5" r="1.3"/><circle cx="117.6" cy="295.3" r="1.3"/><circle cx="120.8" cy="292.1" r="1.3"/><circle cx="124.5" cy="292.1" r="1.3"/><circle cx="126.7" cy="292.5" r="1.3"/><circle cx="121.7" cy="298.9" r="1.3"/><circle cx="125.8" cy="298.5" r="1.3"/><circle cx="130.4" cy="299.4" r="1.3"/><circle cx="137.6" cy="301.2" r="1.3"/><circle cx="140.4" cy="301.6" r="1.3"/><circle cx="144.0" cy="303.9" r="1.3"/><circle cx="142.2" cy="246.0" r="1.3"/><circle cx="142.2" cy="263.6" r="1.3"/><circle cx="143.0" cy="274.4" r="1.3"/><circle cx="146.0" cy="274.4" r="1.3"/><circle cx="149.3" cy="274.1" r="1.3"/><circle cx="142.2" cy="280.4" r="1.3"/><circle cx="143.7" cy="282.6" r="1.3"/><circle cx="167.7" cy="290.1" r="1.3"/><circle cx="147.5" cy="287.8" r="1.3"/><circle cx="142.2" cy="287.8" r="1.3"/><circle cx="142.2" cy="292.3" r="1.3"/><circle cx="146.0" cy="293.8" r="1.3"/><circle cx="149.7" cy="293.8" r="1.3"/><circle cx="143.0" cy="298.3" r="1.3"/><circle cx="146.0" cy="296.8" r="1.3"/><circle cx="141.5" cy="302.8" r="1.3"/><circle cx="147.5" cy="302.8" r="1.3"/><circle cx="149.0" cy="304.3" r="1.3"/><circle cx="142.2" cy="305.5" r="1.3"/><circle cx="146.0" cy="305.8" r="1.3"/><circle cx="147.5" cy="308.8" r="1.3"/></g>
<g><path d="M67.80,275.95 L70.36,276.46 L72.92,276.97 L75.48,277.47 L78.05,277.98 L80.61,278.47 L83.17,278.97 L85.73,279.45 L88.29,279.93 L90.85,280.40 L93.42,280.86 L95.98,281.31 L98.54,281.74 L101.10,282.16 L103.66,282.55 L106.22,282.92 L108.78,283.27 L111.35,283.58 L113.91,283.86 L116.47,284.10 L119.03,284.32 L121.59,284.50 L124.15,284.65 L126.72,284.78 L129.28,284.89 L131.84,284.98 L134.40,285.06 L136.96,285.12 L139.52,285.17 L142.08,285.22 L144.65,285.25 L147.21,285.28 L149.77,285.31 L152.33,285.33 L154.89,285.35 L157.45,285.36 L160.02,285.38 L162.58,285.39 L165.14,285.39 L167.70,285.40" fill="none" stroke="#222" stroke-width="1.1"/>
<path d="M67.80,281.40 L70.36,281.66 L72.92,281.92 L75.48,282.18 L78.05,282.45 L80.61,282.71 L83.17,282.97 L85.73,283.23 L88.29,283.49 L90.85,283.75 L93.42,284.02 L95.98,284.28 L98.54,284.54 L101.10,284.80 L103.66,285.06 L106.22,285.32 L108.78,285.58 L111.35,285.85 L113.91,286.11 L116.47,286.37 L119.03,286.63 L121.59,286.89 L124.15,287.15 L126.72,287.42 L129.28,287.68 L131.84,287.94 L134.40,288.20 L136.96,288.46 L139.52,288.72 L142.08,288.98 L144.65,289.25 L147.21,289.51 L149.77,289.77 L152.33,290.03 L154.89,290.29 L157.45,290.55 L160.02,290.82 L162.58,291.08 L165.14,291.34 L167.70,291.60" fill="none" stroke="#222" stroke-width="1.1"/>
<path d="M67.80,286.85 L70.36,286.86 L72.92,286.88 L75.48,286.89 L78.05,286.92 L80.61,286.94 L83.17,286.97 L85.73,287.01 L88.29,287.05 L90.85,287.11 L93.42,287.17 L95.98,287.24 L98.54,287.33 L101.10,287.44 L103.66,287.57 L106.22,287.72 L108.78,287.90 L111.35,288.11 L113.91,288.36 L116.47,288.64 L119.03,288.95 L121.59,289.29 L124.15,289.66 L126.72,290.05 L129.28,290.46 L131.84,290.90 L134.40,291.34 L136.96,291.80 L139.52,292.27 L142.08,292.75 L144.65,293.24 L147.21,293.73 L149.77,294.23 L152.33,294.73 L154.89,295.23 L157.45,295.74 L160.02,296.25 L162.58,296.77 L165.14,297.28 L167.70,297.80" fill="none" stroke="#222" stroke-width="1.1"/></g>
<g fill="#111"><line x1="236.68" y1="298.50" x2="358.81" y2="298.50" stroke="#999" stroke-width="0.7" stroke-dasharray="1,1.3"/>
<path d="M236.68,188.70V310.70H358.81" fill="none" stroke="#4a4a4a" stroke-width="1.1"/>
<line x1="234.68" y1="310.70" x2="236.68" y2="310.70" stroke="#4a4a4a" stroke-width="1"/>
<text x="233.28" y="313.90" text-anchor="end" font-size="9.7" stroke="#111" stroke-width="0.28">0</text>
<line x1="234.68" y1="298.50" x2="236.68" y2="298.50" stroke="#4a4a4a" stroke-width="1"/>
<line x1="234.68" y1="249.70" x2="236.68" y2="249.70" stroke="#4a4a4a" stroke-width="1"/>
<text x="233.28" y="252.90" text-anchor="end" font-size="9.7" stroke="#111" stroke-width="0.28">50</text>
<line x1="234.68" y1="188.70" x2="236.68" y2="188.70" stroke="#4a4a4a" stroke-width="1"/>
<text x="233.28" y="191.90" text-anchor="end" font-size="9.7" textLength="12.6" lengthAdjust="spacingAndGlyphs" stroke="#111" stroke-width="0.28">100</text>
<line x1="247.30" y1="310.70" x2="247.30" y2="312.70" stroke="#4a4a4a" stroke-width="1"/>
<text x="247.30" y="322.80" text-anchor="middle" font-size="9.7" stroke="#111" stroke-width="0.28">30</text>
<line x1="263.23" y1="310.70" x2="263.23" y2="312.70" stroke="#4a4a4a" stroke-width="1"/>
<text x="263.23" y="322.80" text-anchor="middle" font-size="9.7" stroke="#111" stroke-width="0.28">60</text>
<line x1="279.16" y1="310.70" x2="279.16" y2="312.70" stroke="#4a4a4a" stroke-width="1"/>
<text x="279.16" y="322.80" text-anchor="middle" font-size="9.7" stroke="#111" stroke-width="0.28">90</text>
<line x1="295.09" y1="310.70" x2="295.09" y2="312.70" stroke="#4a4a4a" stroke-width="1"/>
<text x="295.09" y="322.80" text-anchor="middle" font-size="9.7" textLength="13.6" lengthAdjust="spacingAndGlyphs" stroke="#111" stroke-width="0.28">120</text>
<line x1="311.02" y1="310.70" x2="311.02" y2="312.70" stroke="#4a4a4a" stroke-width="1"/>
<text x="311.02" y="322.80" text-anchor="middle" font-size="9.7" textLength="13.6" lengthAdjust="spacingAndGlyphs" stroke="#111" stroke-width="0.28">150</text>
<line x1="326.95" y1="310.70" x2="326.95" y2="312.70" stroke="#4a4a4a" stroke-width="1"/>
<text x="326.95" y="322.80" text-anchor="middle" font-size="9.7" textLength="13.6" lengthAdjust="spacingAndGlyphs" stroke="#111" stroke-width="0.28">180</text>
<line x1="342.88" y1="310.70" x2="342.88" y2="312.70" stroke="#4a4a4a" stroke-width="1"/>
<text x="342.88" y="322.80" text-anchor="middle" font-size="9.7" textLength="13.6" lengthAdjust="spacingAndGlyphs" stroke="#111" stroke-width="0.28">210</text>
<line x1="358.81" y1="310.70" x2="358.81" y2="312.70" stroke="#4a4a4a" stroke-width="1"/>
<text x="358.81" y="322.80" text-anchor="middle" font-size="9.7" textLength="13.6" lengthAdjust="spacingAndGlyphs" stroke="#111" stroke-width="0.28">240</text>
<text x="228.30" y="337.20" font-size="11.2" textLength="139.30" lengthAdjust="spacingAndGlyphs" stroke="#111" stroke-width="0.28">Time after second dose (days)</text>
<text transform="translate(215.66,245.75) rotate(-90)" text-anchor="middle" font-size="11.2" textLength="72.70" lengthAdjust="spacingAndGlyphs" stroke="#111" stroke-width="0.28">Signal Spike %</text>
<text x="327.80" y="184.30" font-size="7.6" textLength="36.00" lengthAdjust="spacingAndGlyphs" stroke="#111" stroke-width="0.28"><tspan font-style="italic">r</tspan> = 0.0454</text>
<text x="327.80" y="194.10" font-size="7.6" textLength="37.30" lengthAdjust="spacingAndGlyphs" stroke="#111" stroke-width="0.28"><tspan font-style="italic">p</tspan> = 0.3719</text></g>
<g fill="#ff0000"><circle cx="272.5" cy="200.9" r="1.3"/><circle cx="300.2" cy="205.6" r="1.3"/><circle cx="264.7" cy="212.7" r="1.3"/><circle cx="321.5" cy="212.7" r="1.3"/><circle cx="260.5" cy="219.1" r="1.3"/><circle cx="287.9" cy="220.3" r="1.3"/><circle cx="283.2" cy="222.6" r="1.3"/><circle cx="240.6" cy="223.8" r="1.3"/><circle cx="280.8" cy="232.3" r="1.3"/><circle cx="284.1" cy="232.3" r="1.3"/><circle cx="239.2" cy="236.1" r="1.3"/><circle cx="290.3" cy="238.5" r="1.3"/><circle cx="336.1" cy="239.9" r="1.3"/><circle cx="245.3" cy="239.9" r="1.3"/><circle cx="239.9" cy="239.9" r="1.3"/><circle cx="243.9" cy="242.7" r="1.3"/><circle cx="243.9" cy="244.6" r="1.3"/><circle cx="269.0" cy="241.1" r="1.3"/><circle cx="296.6" cy="243.4" r="1.3"/><circle cx="300.9" cy="245.8" r="1.3"/><circle cx="270.6" cy="247.0" r="1.3"/><circle cx="319.6" cy="248.2" r="1.3"/><circle cx="333.8" cy="247.0" r="1.3"/><circle cx="260.5" cy="249.8" r="1.3"/><circle cx="263.6" cy="249.8" r="1.3"/><circle cx="295.5" cy="252.2" r="1.3"/><circle cx="258.3" cy="253.4" r="1.3"/><circle cx="261.2" cy="253.4" r="1.3"/><circle cx="245.8" cy="254.5" r="1.3"/><circle cx="249.5" cy="253.6" r="1.3"/><circle cx="251.7" cy="255.0" r="1.3"/><circle cx="258.5" cy="253.6" r="1.3"/><circle cx="261.3" cy="255.9" r="1.3"/><circle cx="264.9" cy="254.5" r="1.3"/><circle cx="260.4" cy="250.9" r="1.3"/><circle cx="264.0" cy="250.5" r="1.3"/><circle cx="238.1" cy="258.6" r="1.3"/><circle cx="254.0" cy="257.3" r="1.3"/><circle cx="252.2" cy="260.0" r="1.3"/><circle cx="257.6" cy="259.5" r="1.3"/><circle cx="258.5" cy="261.8" r="1.3"/><circle cx="271.3" cy="258.2" r="1.3"/><circle cx="274.0" cy="259.5" r="1.3"/><circle cx="277.6" cy="260.9" r="1.3"/><circle cx="283.5" cy="258.6" r="1.3"/><circle cx="243.1" cy="263.2" r="1.3"/><circle cx="237.6" cy="264.5" r="1.3"/><circle cx="256.7" cy="263.2" r="1.3"/><circle cx="272.2" cy="261.8" r="1.3"/><circle cx="275.8" cy="263.2" r="1.3"/><circle cx="242.2" cy="266.8" r="1.3"/><circle cx="251.3" cy="265.9" r="1.3"/><circle cx="254.9" cy="266.8" r="1.3"/><circle cx="258.5" cy="266.4" r="1.3"/><circle cx="264.0" cy="266.8" r="1.3"/><circle cx="274.9" cy="266.8" r="1.3"/><circle cx="252.6" cy="269.5" r="1.3"/><circle cx="261.3" cy="268.6" r="1.3"/><circle cx="270.4" cy="269.1" r="1.3"/><circle cx="274.0" cy="269.5" r="1.3"/><circle cx="278.5" cy="270.5" r="1.3"/><circle cx="237.2" cy="270.9" r="1.3"/><circle cx="239.9" cy="270.7" r="1.3"/><circle cx="249.0" cy="271.8" r="1.3"/><circle cx="254.5" cy="270.9" r="1.3"/><circle cx="258.1" cy="271.4" r="1.3"/><circle cx="263.1" cy="270.5" r="1.3"/><circle cx="265.4" cy="271.4" r="1.3"/><circle cx="253.1" cy="274.1" r="1.3"/><circle cx="257.6" cy="273.6" r="1.3"/><circle cx="261.3" cy="273.2" r="1.3"/><circle cx="244.5" cy="275.5" r="1.3"/><circle cx="246.7" cy="276.4" r="1.3"/><circle cx="253.1" cy="276.4" r="1.3"/><circle cx="257.6" cy="275.9" r="1.3"/><circle cx="263.1" cy="275.0" r="1.3"/><circle cx="267.2" cy="276.4" r="1.3"/><circle cx="274.0" cy="276.8" r="1.3"/><circle cx="279.5" cy="277.7" r="1.3"/><circle cx="236.7" cy="279.1" r="1.3"/><circle cx="240.4" cy="280.5" r="1.3"/><circle cx="248.5" cy="279.1" r="1.3"/><circle cx="256.7" cy="277.7" r="1.3"/><circle cx="258.5" cy="280.0" r="1.3"/><circle cx="261.3" cy="279.1" r="1.3"/><circle cx="264.0" cy="279.5" r="1.3"/><circle cx="268.5" cy="279.1" r="1.3"/><circle cx="272.2" cy="280.9" r="1.3"/><circle cx="236.7" cy="282.7" r="1.3"/><circle cx="242.2" cy="282.3" r="1.3"/><circle cx="252.2" cy="281.8" r="1.3"/><circle cx="257.6" cy="282.7" r="1.3"/><circle cx="260.4" cy="281.8" r="1.3"/><circle cx="266.3" cy="282.7" r="1.3"/><circle cx="270.4" cy="281.8" r="1.3"/><circle cx="277.6" cy="282.3" r="1.3"/><circle cx="283.1" cy="281.4" r="1.3"/><circle cx="236.3" cy="286.4" r="1.3"/><circle cx="241.3" cy="285.5" r="1.3"/><circle cx="244.0" cy="285.9" r="1.3"/><circle cx="248.5" cy="286.4" r="1.3"/><circle cx="257.2" cy="285.9" r="1.3"/><circle cx="259.5" cy="284.5" r="1.3"/><circle cx="264.0" cy="285.9" r="1.3"/><circle cx="266.7" cy="284.5" r="1.3"/><circle cx="271.3" cy="285.5" r="1.3"/><circle cx="275.4" cy="286.4" r="1.3"/><circle cx="281.3" cy="286.4" r="1.3"/><circle cx="237.6" cy="289.1" r="1.3"/><circle cx="244.9" cy="288.6" r="1.3"/><circle cx="258.5" cy="288.6" r="1.3"/><circle cx="261.3" cy="287.7" r="1.3"/><circle cx="275.8" cy="288.2" r="1.3"/><circle cx="279.9" cy="289.1" r="1.3"/><circle cx="257.2" cy="279.1" r="1.3"/><circle cx="258.1" cy="287.3" r="1.3"/><circle cx="237.6" cy="287.8" r="1.3"/><circle cx="241.3" cy="288.7" r="1.3"/><circle cx="244.9" cy="287.8" r="1.3"/><circle cx="247.6" cy="287.4" r="1.3"/><circle cx="264.9" cy="288.7" r="1.3"/><circle cx="268.5" cy="287.4" r="1.3"/><circle cx="272.2" cy="289.6" r="1.3"/><circle cx="236.7" cy="291.5" r="1.3"/><circle cx="240.4" cy="291.5" r="1.3"/><circle cx="244.0" cy="291.0" r="1.3"/><circle cx="246.7" cy="292.4" r="1.3"/><circle cx="256.7" cy="291.5" r="1.3"/><circle cx="260.4" cy="292.4" r="1.3"/><circle cx="264.0" cy="291.0" r="1.3"/><circle cx="268.5" cy="292.8" r="1.3"/><circle cx="272.2" cy="292.4" r="1.3"/><circle cx="276.7" cy="291.5" r="1.3"/><circle cx="281.3" cy="292.4" r="1.3"/><circle cx="237.6" cy="294.6" r="1.3"/><circle cx="242.2" cy="294.2" r="1.3"/><circle cx="245.8" cy="295.1" r="1.3"/><circle cx="254.0" cy="294.2" r="1.3"/><circle cx="258.1" cy="295.1" r="1.3"/><circle cx="262.2" cy="294.6" r="1.3"/><circle cx="266.7" cy="295.1" r="1.3"/><circle cx="270.4" cy="296.0" r="1.3"/><circle cx="274.9" cy="294.6" r="1.3"/><circle cx="278.5" cy="296.0" r="1.3"/><circle cx="282.2" cy="295.1" r="1.3"/><circle cx="241.3" cy="297.4" r="1.3"/><circle cx="246.7" cy="297.8" r="1.3"/><circle cx="252.2" cy="298.3" r="1.3"/><circle cx="256.7" cy="297.8" r="1.3"/><circle cx="261.3" cy="296.9" r="1.3"/><circle cx="264.9" cy="298.7" r="1.3"/><circle cx="271.3" cy="298.7" r="1.3"/><circle cx="276.7" cy="297.8" r="1.3"/><circle cx="281.3" cy="297.8" r="1.3"/><circle cx="236.7" cy="300.5" r="1.3"/><circle cx="247.6" cy="300.1" r="1.3"/><circle cx="250.8" cy="300.5" r="1.3"/><circle cx="254.9" cy="300.1" r="1.3"/><circle cx="258.5" cy="301.0" r="1.3"/><circle cx="262.2" cy="301.5" r="1.3"/><circle cx="277.6" cy="300.5" r="1.3"/><circle cx="282.2" cy="301.0" r="1.3"/><circle cx="238.5" cy="302.8" r="1.3"/><circle cx="245.4" cy="303.7" r="1.3"/><circle cx="253.5" cy="302.8" r="1.3"/><circle cx="257.6" cy="303.7" r="1.3"/><circle cx="261.3" cy="302.8" r="1.3"/><circle cx="268.5" cy="302.8" r="1.3"/><circle cx="236.7" cy="304.2" r="1.3"/><circle cx="240.4" cy="305.1" r="1.3"/><circle cx="253.1" cy="305.1" r="1.3"/><circle cx="257.6" cy="304.6" r="1.3"/><circle cx="266.7" cy="304.2" r="1.3"/><circle cx="270.4" cy="305.1" r="1.3"/><circle cx="279.5" cy="305.1" r="1.3"/><circle cx="239.9" cy="306.5" r="1.3"/><circle cx="264.0" cy="306.5" r="1.3"/><circle cx="271.7" cy="307.4" r="1.3"/><circle cx="251.3" cy="308.3" r="1.3"/><circle cx="295.6" cy="252.2" r="1.3"/><circle cx="283.7" cy="258.2" r="1.3"/><circle cx="309.5" cy="257.0" r="1.3"/><circle cx="294.9" cy="264.5" r="1.3"/><circle cx="330.2" cy="261.9" r="1.3"/><circle cx="315.8" cy="270.4" r="1.3"/><circle cx="287.2" cy="275.3" r="1.3"/><circle cx="299.4" cy="277.6" r="1.3"/><circle cx="297.9" cy="279.1" r="1.3"/><circle cx="298.6" cy="281.3" r="1.3"/><circle cx="294.2" cy="281.6" r="1.3"/><circle cx="287.2" cy="281.6" r="1.3"/><circle cx="309.5" cy="281.6" r="1.3"/><circle cx="289.7" cy="282.8" r="1.3"/><circle cx="283.7" cy="284.0" r="1.3"/><circle cx="291.9" cy="286.5" r="1.3"/><circle cx="280.7" cy="289.5" r="1.3"/><circle cx="285.2" cy="291.0" r="1.3"/><circle cx="291.2" cy="290.2" r="1.3"/><circle cx="294.2" cy="291.7" r="1.3"/><circle cx="297.9" cy="290.2" r="1.3"/><circle cx="302.4" cy="292.5" r="1.3"/><circle cx="304.6" cy="292.5" r="1.3"/><circle cx="308.0" cy="290.2" r="1.3"/><circle cx="312.0" cy="291.4" r="1.3"/><circle cx="282.2" cy="294.0" r="1.3"/><circle cx="294.2" cy="294.7" r="1.3"/><circle cx="297.9" cy="294.0" r="1.3"/><circle cx="324.0" cy="293.7" r="1.3"/><circle cx="350.0" cy="291.4" r="1.3"/><circle cx="354.5" cy="294.7" r="1.3"/><circle cx="281.5" cy="297.7" r="1.3"/><circle cx="286.7" cy="298.4" r="1.3"/><circle cx="294.9" cy="299.2" r="1.3"/><circle cx="298.6" cy="298.4" r="1.3"/><circle cx="302.4" cy="299.2" r="1.3"/><circle cx="306.5" cy="297.7" r="1.3"/><circle cx="311.6" cy="297.7" r="1.3"/><circle cx="319.5" cy="299.6" r="1.3"/><circle cx="330.7" cy="298.4" r="1.3"/><circle cx="347.1" cy="298.4" r="1.3"/><circle cx="283.7" cy="302.2" r="1.3"/><circle cx="286.0" cy="303.7" r="1.3"/><circle cx="294.9" cy="302.2" r="1.3"/><circle cx="299.4" cy="301.4" r="1.3"/><circle cx="302.4" cy="302.2" r="1.3"/><circle cx="295.6" cy="305.1" r="1.3"/><circle cx="298.6" cy="304.4" r="1.3"/><circle cx="301.6" cy="304.8" r="1.3"/><circle cx="293.1" cy="307.4" r="1.3"/><circle cx="296.4" cy="306.3" r="1.3"/><circle cx="255.8" cy="257.4" r="1.3"/><circle cx="260.6" cy="258.3" r="1.3"/><circle cx="256.6" cy="259.8" r="1.3"/><circle cx="258.2" cy="261.0" r="1.3"/><circle cx="254.6" cy="261.9" r="1.3"/><circle cx="258.3" cy="262.3" r="1.3"/><circle cx="256.2" cy="264.5" r="1.3"/><circle cx="258.5" cy="264.6" r="1.3"/><circle cx="257.0" cy="266.7" r="1.3"/><circle cx="260.3" cy="266.8" r="1.3"/><circle cx="258.4" cy="267.3" r="1.3"/><circle cx="261.4" cy="268.7" r="1.3"/><circle cx="255.1" cy="269.4" r="1.3"/><circle cx="259.2" cy="271.5" r="1.3"/><circle cx="255.2" cy="272.1" r="1.3"/><circle cx="260.6" cy="272.8" r="1.3"/><circle cx="256.7" cy="273.3" r="1.3"/><circle cx="258.2" cy="274.5" r="1.3"/><circle cx="257.2" cy="275.9" r="1.3"/><circle cx="259.3" cy="277.1" r="1.3"/><circle cx="256.3" cy="277.7" r="1.3"/><circle cx="261.2" cy="279.3" r="1.3"/><circle cx="255.5" cy="280.1" r="1.3"/><circle cx="260.1" cy="281.6" r="1.3"/><circle cx="257.4" cy="281.7" r="1.3"/><circle cx="261.9" cy="282.4" r="1.3"/><circle cx="256.2" cy="284.4" r="1.3"/><circle cx="258.6" cy="285.0" r="1.3"/><circle cx="254.7" cy="286.3" r="1.3"/><circle cx="261.1" cy="287.1" r="1.3"/><circle cx="258.0" cy="287.7" r="1.3"/><circle cx="260.8" cy="289.2" r="1.3"/><circle cx="256.8" cy="289.9" r="1.3"/><circle cx="261.4" cy="291.7" r="1.3"/><circle cx="256.4" cy="292.3" r="1.3"/><circle cx="258.2" cy="293.3" r="1.3"/><circle cx="257.1" cy="294.8" r="1.3"/><circle cx="261.3" cy="294.7" r="1.3"/><circle cx="256.0" cy="296.3" r="1.3"/><circle cx="258.1" cy="296.9" r="1.3"/><circle cx="255.2" cy="297.4" r="1.3"/><circle cx="258.2" cy="299.4" r="1.3"/><circle cx="255.0" cy="299.6" r="1.3"/><circle cx="259.6" cy="301.6" r="1.3"/><circle cx="254.8" cy="301.9" r="1.3"/><circle cx="260.2" cy="303.6" r="1.3"/><circle cx="263.6" cy="302.8" r="1.3"/><circle cx="253.3" cy="295.6" r="1.3"/><circle cx="254.8" cy="303.1" r="1.3"/><circle cx="266.2" cy="291.4" r="1.3"/><circle cx="251.3" cy="292.7" r="1.3"/><circle cx="252.4" cy="296.8" r="1.3"/><circle cx="259.2" cy="293.2" r="1.3"/><circle cx="248.1" cy="295.7" r="1.3"/><circle cx="255.0" cy="298.1" r="1.3"/><circle cx="266.1" cy="300.0" r="1.3"/><circle cx="257.8" cy="298.9" r="1.3"/><circle cx="260.8" cy="289.9" r="1.3"/><circle cx="265.1" cy="301.5" r="1.3"/><circle cx="264.6" cy="301.8" r="1.3"/><circle cx="255.5" cy="295.4" r="1.3"/><circle cx="250.0" cy="299.1" r="1.3"/><circle cx="249.2" cy="290.1" r="1.3"/><circle cx="252.0" cy="291.6" r="1.3"/><circle cx="254.5" cy="289.8" r="1.3"/><circle cx="248.0" cy="291.4" r="1.3"/><circle cx="249.9" cy="294.8" r="1.3"/><circle cx="248.5" cy="303.0" r="1.3"/><circle cx="259.7" cy="291.4" r="1.3"/><circle cx="252.8" cy="294.6" r="1.3"/><circle cx="254.9" cy="291.0" r="1.3"/><circle cx="264.1" cy="304.9" r="1.3"/><circle cx="256.9" cy="296.7" r="1.3"/><circle cx="249.6" cy="290.6" r="1.3"/><circle cx="240.4" cy="286.4" r="1.3"/><circle cx="246.0" cy="283.9" r="1.3"/><circle cx="236.8" cy="302.8" r="1.3"/><circle cx="242.6" cy="283.5" r="1.3"/><circle cx="242.7" cy="280.6" r="1.3"/><circle cx="242.6" cy="303.5" r="1.3"/><circle cx="246.4" cy="296.7" r="1.3"/><circle cx="239.5" cy="288.8" r="1.3"/><circle cx="238.4" cy="298.5" r="1.3"/><circle cx="242.6" cy="298.7" r="1.3"/><circle cx="240.3" cy="285.4" r="1.3"/><circle cx="245.8" cy="303.6" r="1.3"/><circle cx="246.3" cy="299.3" r="1.3"/><circle cx="245.9" cy="297.8" r="1.3"/><circle cx="239.1" cy="292.4" r="1.3"/><circle cx="240.6" cy="280.7" r="1.3"/><circle cx="236.8" cy="286.7" r="1.3"/><circle cx="239.5" cy="296.6" r="1.3"/></g>
<g><path d="M236.60,280.15 L239.62,280.25 L242.65,280.33 L245.67,280.40 L248.69,280.45 L251.72,280.48 L254.74,280.48 L257.76,280.44 L260.78,280.37 L263.81,280.26 L266.83,280.11 L269.85,279.91 L272.88,279.67 L275.90,279.41 L278.92,279.11 L281.95,278.79 L284.97,278.45 L287.99,278.10 L291.02,277.73 L294.04,277.35 L297.06,276.97 L300.08,276.58 L303.11,276.18 L306.13,275.78 L309.15,275.37 L312.18,274.96 L315.20,274.55 L318.22,274.13 L321.25,273.72 L324.27,273.30 L327.29,272.88 L330.32,272.46 L333.34,272.03 L336.36,271.61 L339.38,271.19 L342.41,270.76 L345.43,270.33 L348.45,269.91 L351.48,269.48 L354.50,269.05" fill="none" stroke="#222" stroke-width="1.1"/>
<path d="M236.60,283.60 L239.62,283.46 L242.65,283.33 L245.67,283.19 L248.69,283.06 L251.72,282.92 L254.74,282.78 L257.76,282.65 L260.78,282.51 L263.81,282.38 L266.83,282.24 L269.85,282.11 L272.88,281.97 L275.90,281.83 L278.92,281.70 L281.95,281.56 L284.97,281.43 L287.99,281.29 L291.02,281.15 L294.04,281.02 L297.06,280.88 L300.08,280.75 L303.11,280.61 L306.13,280.47 L309.15,280.34 L312.18,280.20 L315.20,280.07 L318.22,279.93 L321.25,279.79 L324.27,279.66 L327.29,279.52 L330.32,279.39 L333.34,279.25 L336.36,279.12 L339.38,278.98 L342.41,278.84 L345.43,278.71 L348.45,278.57 L351.48,278.44 L354.50,278.30" fill="none" stroke="#222" stroke-width="1.1"/>
<path d="M236.60,287.05 L239.62,286.68 L242.65,286.33 L245.67,285.99 L248.69,285.66 L251.72,285.36 L254.74,285.09 L257.76,284.85 L260.78,284.65 L263.81,284.49 L266.83,284.38 L269.85,284.30 L272.88,284.26 L275.90,284.26 L278.92,284.28 L281.95,284.33 L284.97,284.40 L287.99,284.48 L291.02,284.58 L294.04,284.68 L297.06,284.79 L300.08,284.91 L303.11,285.04 L306.13,285.17 L309.15,285.31 L312.18,285.44 L315.20,285.58 L318.22,285.73 L321.25,285.87 L324.27,286.02 L327.29,286.17 L330.32,286.32 L333.34,286.47 L336.36,286.62 L339.38,286.77 L342.41,286.93 L345.43,287.08 L348.45,287.24 L351.48,287.39 L354.50,287.55" fill="none" stroke="#222" stroke-width="1.1"/></g>
<g fill="#111"><path d="M411.06,192.59V315.21H533.42" fill="none" stroke="#4a4a4a" stroke-width="1.1"/>
<line x1="409.06" y1="311.80" x2="411.06" y2="311.80" stroke="#4a4a4a" stroke-width="1"/>
<text x="407.66" y="315.00" text-anchor="end" font-size="9.7" stroke="#111" stroke-width="0.28">20</text>
<line x1="409.06" y1="277.74" x2="411.06" y2="277.74" stroke="#4a4a4a" stroke-width="1"/>
<text x="407.66" y="280.94" text-anchor="end" font-size="9.7" stroke="#111" stroke-width="0.28">40</text>
<line x1="409.06" y1="243.68" x2="411.06" y2="243.68" stroke="#4a4a4a" stroke-width="1"/>
<text x="407.66" y="246.88" text-anchor="end" font-size="9.7" stroke="#111" stroke-width="0.28">60</text>
<line x1="409.06" y1="209.62" x2="411.06" y2="209.62" stroke="#4a4a4a" stroke-width="1"/>
<text x="407.66" y="212.82" text-anchor="end" font-size="9.7" stroke="#111" stroke-width="0.28">80</text>
<line x1="421.70" y1="315.21" x2="421.70" y2="317.21" stroke="#4a4a4a" stroke-width="1"/>
<text x="421.70" y="327.31" text-anchor="middle" font-size="9.7" stroke="#111" stroke-width="0.28">30</text>
<line x1="437.66" y1="315.21" x2="437.66" y2="317.21" stroke="#4a4a4a" stroke-width="1"/>
<text x="437.66" y="327.31" text-anchor="middle" font-size="9.7" stroke="#111" stroke-width="0.28">60</text>
<line x1="453.62" y1="315.21" x2="453.62" y2="317.21" stroke="#4a4a4a" stroke-width="1"/>
<text x="453.62" y="327.31" text-anchor="middle" font-size="9.7" stroke="#111" stroke-width="0.28">90</text>
<line x1="469.58" y1="315.21" x2="469.58" y2="317.21" stroke="#4a4a4a" stroke-width="1"/>
<text x="469.58" y="327.31" text-anchor="middle" font-size="9.7" textLength="13.6" lengthAdjust="spacingAndGlyphs" stroke="#111" stroke-width="0.28">120</text>
<line x1="485.54" y1="315.21" x2="485.54" y2="317.21" stroke="#4a4a4a" stroke-width="1"/>
<text x="485.54" y="327.31" text-anchor="middle" font-size="9.7" textLength="13.6" lengthAdjust="spacingAndGlyphs" stroke="#111" stroke-width="0.28">150</text>
<line x1="501.50" y1="315.21" x2="501.50" y2="317.21" stroke="#4a4a4a" stroke-width="1"/>
<text x="501.50" y="327.31" text-anchor="middle" font-size="9.7" textLength="13.6" lengthAdjust="spacingAndGlyphs" stroke="#111" stroke-width="0.28">180</text>
<line x1="517.46" y1="315.21" x2="517.46" y2="317.21" stroke="#4a4a4a" stroke-width="1"/>
<text x="517.46" y="327.31" text-anchor="middle" font-size="9.7" textLength="13.6" lengthAdjust="spacingAndGlyphs" stroke="#111" stroke-width="0.28">210</text>
<line x1="533.42" y1="315.21" x2="533.42" y2="317.21" stroke="#4a4a4a" stroke-width="1"/>
<text x="533.42" y="327.31" text-anchor="middle" font-size="9.7" textLength="13.6" lengthAdjust="spacingAndGlyphs" stroke="#111" stroke-width="0.28">240</text>
<text x="403.20" y="341.40" font-size="11.2" textLength="139.10" lengthAdjust="spacingAndGlyphs" stroke="#111" stroke-width="0.28">Time after second dose (days)</text>
<text transform="translate(390.66,252.90) rotate(-90)" text-anchor="middle" font-size="11.2" textLength="51.00" lengthAdjust="spacingAndGlyphs" stroke="#111" stroke-width="0.28">Age (years)</text>
<text x="503.90" y="185.00" font-size="7.6" textLength="39.20" lengthAdjust="spacingAndGlyphs" stroke="#111" stroke-width="0.28"><tspan font-style="italic">r</tspan> = −0.0311</text>
<text x="503.90" y="194.60" font-size="7.6" textLength="37.10" lengthAdjust="spacingAndGlyphs" stroke="#111" stroke-width="0.28"><tspan font-style="italic">p</tspan> = 0.5585</text></g>
<g fill="#ff0000"><circle cx="441.8" cy="214.4" r="1.3"/><circle cx="473.0" cy="232.1" r="1.3"/><circle cx="470.0" cy="234.9" r="1.3"/><circle cx="504.9" cy="234.9" r="1.3"/><circle cx="524.5" cy="243.2" r="1.3"/><circle cx="504.5" cy="244.8" r="1.3"/><circle cx="493.6" cy="245.1" r="1.3"/><circle cx="413.5" cy="233.0" r="1.3"/><circle cx="418.5" cy="233.0" r="1.3"/><circle cx="423.9" cy="234.8" r="1.3"/><circle cx="432.1" cy="234.8" r="1.3"/><circle cx="439.4" cy="233.0" r="1.3"/><circle cx="452.1" cy="233.0" r="1.3"/><circle cx="455.3" cy="235.7" r="1.3"/><circle cx="412.1" cy="237.1" r="1.3"/><circle cx="414.8" cy="239.4" r="1.3"/><circle cx="417.5" cy="239.8" r="1.3"/><circle cx="420.3" cy="238.0" r="1.3"/><circle cx="428.5" cy="236.6" r="1.3"/><circle cx="432.1" cy="237.5" r="1.3"/><circle cx="437.1" cy="236.6" r="1.3"/><circle cx="441.6" cy="238.5" r="1.3"/><circle cx="445.3" cy="238.5" r="1.3"/><circle cx="448.9" cy="238.9" r="1.3"/><circle cx="452.5" cy="239.4" r="1.3"/><circle cx="457.1" cy="237.1" r="1.3"/><circle cx="428.9" cy="240.3" r="1.3"/><circle cx="431.6" cy="241.2" r="1.3"/><circle cx="435.3" cy="239.8" r="1.3"/><circle cx="411.6" cy="243.5" r="1.3"/><circle cx="423.5" cy="242.1" r="1.3"/><circle cx="427.5" cy="243.5" r="1.3"/><circle cx="430.3" cy="243.5" r="1.3"/><circle cx="434.4" cy="243.0" r="1.3"/><circle cx="442.1" cy="243.9" r="1.3"/><circle cx="446.2" cy="243.0" r="1.3"/><circle cx="449.8" cy="242.1" r="1.3"/><circle cx="453.5" cy="243.0" r="1.3"/><circle cx="457.5" cy="241.6" r="1.3"/><circle cx="414.4" cy="245.3" r="1.3"/><circle cx="440.3" cy="246.6" r="1.3"/><circle cx="446.6" cy="247.1" r="1.3"/><circle cx="451.2" cy="246.6" r="1.3"/><circle cx="453.9" cy="246.2" r="1.3"/><circle cx="425.7" cy="248.5" r="1.3"/><circle cx="433.5" cy="248.9" r="1.3"/><circle cx="435.3" cy="248.5" r="1.3"/><circle cx="442.1" cy="248.9" r="1.3"/><circle cx="444.8" cy="249.8" r="1.3"/><circle cx="448.9" cy="248.5" r="1.3"/><circle cx="453.5" cy="247.5" r="1.3"/><circle cx="414.8" cy="249.8" r="1.3"/><circle cx="421.6" cy="249.8" r="1.3"/><circle cx="419.8" cy="252.1" r="1.3"/><circle cx="433.0" cy="251.2" r="1.3"/><circle cx="435.3" cy="251.2" r="1.3"/><circle cx="438.5" cy="251.6" r="1.3"/><circle cx="443.0" cy="250.7" r="1.3"/><circle cx="453.9" cy="252.1" r="1.3"/><circle cx="412.1" cy="253.9" r="1.3"/><circle cx="415.3" cy="254.4" r="1.3"/><circle cx="418.0" cy="253.5" r="1.3"/><circle cx="426.2" cy="253.9" r="1.3"/><circle cx="432.5" cy="253.5" r="1.3"/><circle cx="435.3" cy="253.5" r="1.3"/><circle cx="439.8" cy="253.5" r="1.3"/><circle cx="446.2" cy="253.5" r="1.3"/><circle cx="449.8" cy="254.4" r="1.3"/><circle cx="450.7" cy="255.7" r="1.3"/><circle cx="413.5" cy="255.3" r="1.3"/><circle cx="426.2" cy="255.3" r="1.3"/><circle cx="443.0" cy="255.3" r="1.3"/><circle cx="455.7" cy="256.6" r="1.3"/><circle cx="414.4" cy="258.5" r="1.3"/><circle cx="419.4" cy="257.1" r="1.3"/><circle cx="421.2" cy="259.4" r="1.3"/><circle cx="432.5" cy="258.5" r="1.3"/><circle cx="435.3" cy="258.9" r="1.3"/><circle cx="439.4" cy="257.5" r="1.3"/><circle cx="448.0" cy="258.5" r="1.3"/><circle cx="446.2" cy="260.3" r="1.3"/><circle cx="423.0" cy="261.2" r="1.3"/><circle cx="425.7" cy="262.5" r="1.3"/><circle cx="433.0" cy="261.2" r="1.3"/><circle cx="435.3" cy="261.6" r="1.3"/><circle cx="439.8" cy="260.7" r="1.3"/><circle cx="411.6" cy="262.9" r="1.3"/><circle cx="428.9" cy="264.8" r="1.3"/><circle cx="434.4" cy="264.4" r="1.3"/><circle cx="437.5" cy="263.9" r="1.3"/><circle cx="440.3" cy="264.8" r="1.3"/><circle cx="446.2" cy="264.8" r="1.3"/><circle cx="412.1" cy="266.2" r="1.3"/><circle cx="418.9" cy="266.6" r="1.3"/><circle cx="412.1" cy="263.4" r="1.3"/><circle cx="425.3" cy="263.4" r="1.3"/><circle cx="428.9" cy="264.7" r="1.3"/><circle cx="434.4" cy="263.8" r="1.3"/><circle cx="438.0" cy="264.3" r="1.3"/><circle cx="440.7" cy="265.2" r="1.3"/><circle cx="446.6" cy="265.2" r="1.3"/><circle cx="412.5" cy="268.4" r="1.3"/><circle cx="418.9" cy="267.5" r="1.3"/><circle cx="427.1" cy="267.9" r="1.3"/><circle cx="430.7" cy="267.5" r="1.3"/><circle cx="435.3" cy="268.4" r="1.3"/><circle cx="438.0" cy="269.3" r="1.3"/><circle cx="446.6" cy="270.2" r="1.3"/><circle cx="412.1" cy="271.5" r="1.3"/><circle cx="418.0" cy="272.5" r="1.3"/><circle cx="421.2" cy="272.9" r="1.3"/><circle cx="426.2" cy="273.4" r="1.3"/><circle cx="429.8" cy="272.0" r="1.3"/><circle cx="433.0" cy="272.5" r="1.3"/><circle cx="435.3" cy="273.8" r="1.3"/><circle cx="438.5" cy="272.5" r="1.3"/><circle cx="448.0" cy="272.5" r="1.3"/><circle cx="453.5" cy="272.9" r="1.3"/><circle cx="426.2" cy="275.6" r="1.3"/><circle cx="435.3" cy="275.6" r="1.3"/><circle cx="438.9" cy="275.6" r="1.3"/><circle cx="452.5" cy="275.6" r="1.3"/><circle cx="412.1" cy="277.9" r="1.3"/><circle cx="427.5" cy="277.5" r="1.3"/><circle cx="432.1" cy="277.9" r="1.3"/><circle cx="442.1" cy="278.8" r="1.3"/><circle cx="446.2" cy="278.8" r="1.3"/><circle cx="412.1" cy="281.1" r="1.3"/><circle cx="416.6" cy="280.6" r="1.3"/><circle cx="421.2" cy="281.1" r="1.3"/><circle cx="432.1" cy="280.2" r="1.3"/><circle cx="433.9" cy="281.5" r="1.3"/><circle cx="437.5" cy="280.6" r="1.3"/><circle cx="444.8" cy="282.0" r="1.3"/><circle cx="453.0" cy="280.6" r="1.3"/><circle cx="412.1" cy="283.8" r="1.3"/><circle cx="418.9" cy="283.4" r="1.3"/><circle cx="427.1" cy="283.8" r="1.3"/><circle cx="432.1" cy="283.4" r="1.3"/><circle cx="446.6" cy="283.4" r="1.3"/><circle cx="449.8" cy="284.3" r="1.3"/><circle cx="453.0" cy="284.3" r="1.3"/><circle cx="456.2" cy="283.8" r="1.3"/><circle cx="432.1" cy="285.6" r="1.3"/><circle cx="412.1" cy="286.1" r="1.3"/><circle cx="427.1" cy="287.0" r="1.3"/><circle cx="443.5" cy="288.8" r="1.3"/><circle cx="413.0" cy="291.1" r="1.3"/><circle cx="416.6" cy="291.1" r="1.3"/><circle cx="420.7" cy="291.1" r="1.3"/><circle cx="427.5" cy="291.1" r="1.3"/><circle cx="432.1" cy="290.2" r="1.3"/><circle cx="434.8" cy="289.3" r="1.3"/><circle cx="438.9" cy="291.1" r="1.3"/><circle cx="450.3" cy="291.1" r="1.3"/><circle cx="412.5" cy="293.8" r="1.3"/><circle cx="416.6" cy="296.1" r="1.3"/><circle cx="432.1" cy="293.4" r="1.3"/><circle cx="432.1" cy="296.1" r="1.3"/><circle cx="438.5" cy="292.9" r="1.3"/><circle cx="450.7" cy="296.1" r="1.3"/><circle cx="444.4" cy="297.0" r="1.3"/><circle cx="434.4" cy="298.8" r="1.3"/><circle cx="438.0" cy="298.8" r="1.3"/><circle cx="440.7" cy="299.3" r="1.3"/><circle cx="446.2" cy="299.7" r="1.3"/><circle cx="412.5" cy="300.2" r="1.3"/><circle cx="416.2" cy="300.2" r="1.3"/><circle cx="419.8" cy="300.6" r="1.3"/><circle cx="413.5" cy="291.4" r="1.3"/><circle cx="417.1" cy="290.9" r="1.3"/><circle cx="420.7" cy="290.5" r="1.3"/><circle cx="449.8" cy="290.9" r="1.3"/><circle cx="412.5" cy="295.9" r="1.3"/><circle cx="416.2" cy="295.9" r="1.3"/><circle cx="432.1" cy="295.0" r="1.3"/><circle cx="443.9" cy="297.3" r="1.3"/><circle cx="413.9" cy="300.9" r="1.3"/><circle cx="418.5" cy="302.7" r="1.3"/><circle cx="433.5" cy="299.5" r="1.3"/><circle cx="436.2" cy="299.1" r="1.3"/><circle cx="439.4" cy="299.1" r="1.3"/><circle cx="441.2" cy="299.5" r="1.3"/><circle cx="446.6" cy="299.1" r="1.3"/><circle cx="433.9" cy="302.7" r="1.3"/><circle cx="444.4" cy="301.8" r="1.3"/><circle cx="449.8" cy="300.9" r="1.3"/><circle cx="443.5" cy="302.7" r="1.3"/><circle cx="422.5" cy="304.5" r="1.3"/><circle cx="448.9" cy="304.5" r="1.3"/><circle cx="443.0" cy="307.7" r="1.3"/><circle cx="445.3" cy="309.1" r="1.3"/><circle cx="448.0" cy="309.5" r="1.3"/><circle cx="450.3" cy="309.5" r="1.3"/><circle cx="439.4" cy="309.5" r="1.3"/><circle cx="415.7" cy="310.9" r="1.3"/><circle cx="455.3" cy="311.4" r="1.3"/><circle cx="446.2" cy="314.5" r="1.3"/><circle cx="449.8" cy="314.5" r="1.3"/><circle cx="453.5" cy="314.5" r="1.3"/><circle cx="457.4" cy="235.2" r="1.3"/><circle cx="454.9" cy="236.6" r="1.3"/><circle cx="460.9" cy="238.3" r="1.3"/><circle cx="459.2" cy="240.1" r="1.3"/><circle cx="458.3" cy="241.4" r="1.3"/><circle cx="465.7" cy="239.7" r="1.3"/><circle cx="469.9" cy="234.9" r="1.3"/><circle cx="472.6" cy="231.1" r="1.3"/><circle cx="473.0" cy="233.2" r="1.3"/><circle cx="524.7" cy="243.5" r="1.3"/><circle cx="494.0" cy="244.9" r="1.3"/><circle cx="504.3" cy="244.9" r="1.3"/><circle cx="490.2" cy="250.1" r="1.3"/><circle cx="454.9" cy="251.3" r="1.3"/><circle cx="498.5" cy="253.5" r="1.3"/><circle cx="475.9" cy="253.5" r="1.3"/><circle cx="456.6" cy="257.0" r="1.3"/><circle cx="485.9" cy="258.7" r="1.3"/><circle cx="473.3" cy="259.0" r="1.3"/><circle cx="475.0" cy="259.9" r="1.3"/><circle cx="466.9" cy="262.1" r="1.3"/><circle cx="469.2" cy="262.1" r="1.3"/><circle cx="473.0" cy="262.1" r="1.3"/><circle cx="478.5" cy="263.9" r="1.3"/><circle cx="466.4" cy="263.9" r="1.3"/><circle cx="494.0" cy="265.6" r="1.3"/><circle cx="472.6" cy="266.3" r="1.3"/><circle cx="457.8" cy="269.0" r="1.3"/><circle cx="468.1" cy="269.0" r="1.3"/><circle cx="474.7" cy="268.5" r="1.3"/><circle cx="485.9" cy="270.2" r="1.3"/><circle cx="495.4" cy="272.0" r="1.3"/><circle cx="508.3" cy="270.2" r="1.3"/><circle cx="510.6" cy="272.0" r="1.3"/><circle cx="461.8" cy="272.0" r="1.3"/><circle cx="454.0" cy="272.0" r="1.3"/><circle cx="457.4" cy="276.3" r="1.3"/><circle cx="460.9" cy="277.7" r="1.3"/><circle cx="468.7" cy="277.1" r="1.3"/><circle cx="471.2" cy="277.1" r="1.3"/><circle cx="480.7" cy="277.1" r="1.3"/><circle cx="483.3" cy="277.1" r="1.3"/><circle cx="482.4" cy="279.4" r="1.3"/><circle cx="464.3" cy="280.6" r="1.3"/><circle cx="467.8" cy="280.6" r="1.3"/><circle cx="473.3" cy="280.6" r="1.3"/><circle cx="460.9" cy="282.3" r="1.3"/><circle cx="456.6" cy="284.0" r="1.3"/><circle cx="469.5" cy="284.0" r="1.3"/><circle cx="475.6" cy="284.9" r="1.3"/><circle cx="474.7" cy="286.6" r="1.3"/><circle cx="457.8" cy="287.5" r="1.3"/><circle cx="458.3" cy="290.9" r="1.3"/><circle cx="460.0" cy="290.9" r="1.3"/><circle cx="469.5" cy="290.9" r="1.3"/><circle cx="484.2" cy="289.2" r="1.3"/><circle cx="521.2" cy="289.2" r="1.3"/><circle cx="458.3" cy="297.8" r="1.3"/><circle cx="476.9" cy="299.0" r="1.3"/><circle cx="461.8" cy="304.4" r="1.3"/><circle cx="476.9" cy="304.4" r="1.3"/><circle cx="469.9" cy="311.6" r="1.3"/><circle cx="472.6" cy="311.6" r="1.3"/><circle cx="472.1" cy="313.3" r="1.3"/><circle cx="529.0" cy="311.3" r="1.3"/><circle cx="454.9" cy="311.6" r="1.3"/></g>
<g><path d="M411.60,264.50 L414.61,264.80 L417.62,265.09 L420.63,265.37 L423.64,265.63 L426.65,265.87 L429.66,266.08 L432.67,266.26 L435.68,266.41 L438.69,266.53 L441.70,266.60 L444.71,266.64 L447.72,266.65 L450.73,266.62 L453.74,266.57 L456.75,266.50 L459.76,266.40 L462.77,266.29 L465.78,266.17 L468.79,266.04 L471.81,265.90 L474.82,265.76 L477.83,265.60 L480.84,265.44 L483.85,265.28 L486.86,265.12 L489.87,264.95 L492.88,264.78 L495.89,264.60 L498.90,264.43 L501.91,264.25 L504.92,264.07 L507.93,263.89 L510.94,263.71 L513.95,263.53 L516.96,263.34 L519.97,263.16 L522.98,262.97 L525.99,262.79 L529.00,262.60" fill="none" stroke="#222" stroke-width="1.1"/>
<path d="M411.60,267.90 L414.61,267.99 L417.62,268.08 L420.63,268.17 L423.64,268.26 L426.65,268.35 L429.66,268.44 L432.67,268.53 L435.68,268.62 L438.69,268.71 L441.70,268.80 L444.71,268.89 L447.72,268.98 L450.73,269.07 L453.74,269.16 L456.75,269.25 L459.76,269.34 L462.77,269.43 L465.78,269.52 L468.79,269.61 L471.81,269.69 L474.82,269.78 L477.83,269.87 L480.84,269.96 L483.85,270.05 L486.86,270.14 L489.87,270.23 L492.88,270.32 L495.89,270.41 L498.90,270.50 L501.91,270.59 L504.92,270.68 L507.93,270.77 L510.94,270.86 L513.95,270.95 L516.96,271.04 L519.97,271.13 L522.98,271.22 L525.99,271.31 L529.00,271.40" fill="none" stroke="#222" stroke-width="1.1"/>
<path d="M411.60,271.30 L414.61,271.18 L417.62,271.06 L420.63,270.97 L423.64,270.89 L426.65,270.83 L429.66,270.80 L432.67,270.79 L435.68,270.82 L438.69,270.89 L441.70,270.99 L444.71,271.13 L447.72,271.31 L450.73,271.51 L453.74,271.74 L456.75,272.00 L459.76,272.27 L462.77,272.56 L465.78,272.86 L468.79,273.17 L471.81,273.49 L474.82,273.81 L477.83,274.15 L480.84,274.48 L483.85,274.83 L486.86,275.17 L489.87,275.52 L492.88,275.87 L495.89,276.22 L498.90,276.58 L501.91,276.94 L504.92,277.29 L507.93,277.65 L510.94,278.01 L513.95,278.38 L516.96,278.74 L519.97,279.10 L522.98,279.47 L525.99,279.83 L529.00,280.20" fill="none" stroke="#222" stroke-width="1.1"/></g>
<g fill="#111"><line x1="67.91" y1="477.16" x2="189.88" y2="477.16" stroke="#999" stroke-width="0.7" stroke-dasharray="1,1.3"/>
<path d="M67.91,367.00V489.40H189.88" fill="none" stroke="#4a4a4a" stroke-width="1.1"/>
<line x1="65.91" y1="489.40" x2="67.91" y2="489.40" stroke="#4a4a4a" stroke-width="1"/>
<text x="64.51" y="492.60" text-anchor="end" font-size="9.7" stroke="#111" stroke-width="0.28">0</text>
<line x1="65.91" y1="477.16" x2="67.91" y2="477.16" stroke="#4a4a4a" stroke-width="1"/>
<line x1="65.91" y1="428.20" x2="67.91" y2="428.20" stroke="#4a4a4a" stroke-width="1"/>
<text x="64.51" y="431.40" text-anchor="end" font-size="9.7" stroke="#111" stroke-width="0.28">50</text>
<line x1="65.91" y1="367.00" x2="67.91" y2="367.00" stroke="#4a4a4a" stroke-width="1"/>
<text x="64.51" y="370.20" text-anchor="end" font-size="9.7" textLength="12.6" lengthAdjust="spacingAndGlyphs" stroke="#111" stroke-width="0.28">100</text>
<line x1="71.30" y1="489.40" x2="71.30" y2="491.40" stroke="#4a4a4a" stroke-width="1"/>
<text x="71.30" y="501.50" text-anchor="middle" font-size="9.7" stroke="#111" stroke-width="0.28">20</text>
<line x1="105.18" y1="489.40" x2="105.18" y2="491.40" stroke="#4a4a4a" stroke-width="1"/>
<text x="105.18" y="501.50" text-anchor="middle" font-size="9.7" stroke="#111" stroke-width="0.28">40</text>
<line x1="139.06" y1="489.40" x2="139.06" y2="491.40" stroke="#4a4a4a" stroke-width="1"/>
<text x="139.06" y="501.50" text-anchor="middle" font-size="9.7" stroke="#111" stroke-width="0.28">60</text>
<line x1="172.94" y1="489.40" x2="172.94" y2="491.40" stroke="#4a4a4a" stroke-width="1"/>
<text x="172.94" y="501.50" text-anchor="middle" font-size="9.7" stroke="#111" stroke-width="0.28">80</text>
<text x="102.60" y="516.50" font-size="11.2" textLength="53.00" lengthAdjust="spacingAndGlyphs" stroke="#111" stroke-width="0.28">Age (years)</text>
<text transform="translate(46.46,424.80) rotate(-90)" text-anchor="middle" font-size="11.2" textLength="72.20" lengthAdjust="spacingAndGlyphs" stroke="#111" stroke-width="0.28">Signal Spike %</text>
<text x="160.70" y="359.60" font-size="7.6" textLength="40.40" lengthAdjust="spacingAndGlyphs" stroke="#111" stroke-width="0.28"><tspan font-style="italic">r</tspan> = −0.2478</text>
<text x="160.70" y="369.40" font-size="7.6" textLength="40.90" lengthAdjust="spacingAndGlyphs" stroke="#111" stroke-width="0.28"><tspan font-style="italic">p</tspan> = &lt;0.0001</text></g>
<g fill="#008000"><circle cx="90.1" cy="367.5" r="1.3"/><circle cx="77.8" cy="369.9" r="1.3"/><circle cx="81.6" cy="375.8" r="1.3"/><circle cx="76.5" cy="378.5" r="1.3"/><circle cx="77.8" cy="378.1" r="1.3"/><circle cx="80.5" cy="380.8" r="1.3"/><circle cx="82.8" cy="379.9" r="1.3"/><circle cx="81.9" cy="381.7" r="1.3"/><circle cx="71.5" cy="382.2" r="1.3"/><circle cx="71.5" cy="383.5" r="1.3"/><circle cx="90.1" cy="382.2" r="1.3"/><circle cx="90.1" cy="383.5" r="1.3"/><circle cx="75.1" cy="386.7" r="1.3"/><circle cx="77.4" cy="385.8" r="1.3"/><circle cx="77.4" cy="388.1" r="1.3"/><circle cx="77.8" cy="389.9" r="1.3"/><circle cx="81.5" cy="388.1" r="1.3"/><circle cx="81.9" cy="390.4" r="1.3"/><circle cx="88.3" cy="389.0" r="1.3"/><circle cx="91.9" cy="389.0" r="1.3"/><circle cx="95.1" cy="389.5" r="1.3"/><circle cx="71.5" cy="392.2" r="1.3"/><circle cx="75.5" cy="392.2" r="1.3"/><circle cx="79.6" cy="394.0" r="1.3"/><circle cx="85.1" cy="391.7" r="1.3"/><circle cx="86.9" cy="391.3" r="1.3"/><circle cx="90.5" cy="391.3" r="1.3"/><circle cx="90.1" cy="393.1" r="1.3"/><circle cx="98.3" cy="393.1" r="1.3"/><circle cx="113.7" cy="393.1" r="1.3"/><circle cx="72.4" cy="394.9" r="1.3"/><circle cx="83.3" cy="394.5" r="1.3"/><circle cx="85.1" cy="396.3" r="1.3"/><circle cx="90.5" cy="395.4" r="1.3"/><circle cx="91.5" cy="396.7" r="1.3"/><circle cx="111.9" cy="396.7" r="1.3"/><circle cx="76.9" cy="398.5" r="1.3"/><circle cx="78.3" cy="399.5" r="1.3"/><circle cx="88.3" cy="399.0" r="1.3"/><circle cx="68.3" cy="401.3" r="1.3"/><circle cx="80.5" cy="400.8" r="1.3"/><circle cx="82.4" cy="401.3" r="1.3"/><circle cx="93.3" cy="401.3" r="1.3"/><circle cx="108.7" cy="400.4" r="1.3"/><circle cx="73.3" cy="403.1" r="1.3"/><circle cx="79.6" cy="403.1" r="1.3"/><circle cx="84.2" cy="403.1" r="1.3"/><circle cx="67.8" cy="401.8" r="1.3"/><circle cx="72.8" cy="402.7" r="1.3"/><circle cx="77.8" cy="400.9" r="1.3"/><circle cx="81.5" cy="401.8" r="1.3"/><circle cx="93.3" cy="401.4" r="1.3"/><circle cx="108.7" cy="400.9" r="1.3"/><circle cx="78.7" cy="404.5" r="1.3"/><circle cx="82.4" cy="405.0" r="1.3"/><circle cx="89.6" cy="404.1" r="1.3"/><circle cx="92.4" cy="405.0" r="1.3"/><circle cx="67.8" cy="406.8" r="1.3"/><circle cx="70.5" cy="406.4" r="1.3"/><circle cx="76.0" cy="406.8" r="1.3"/><circle cx="86.9" cy="407.7" r="1.3"/><circle cx="90.5" cy="408.2" r="1.3"/><circle cx="115.1" cy="406.8" r="1.3"/><circle cx="67.8" cy="409.1" r="1.3"/><circle cx="71.5" cy="410.0" r="1.3"/><circle cx="79.6" cy="409.1" r="1.3"/><circle cx="81.5" cy="410.9" r="1.3"/><circle cx="88.7" cy="410.0" r="1.3"/><circle cx="95.1" cy="410.9" r="1.3"/><circle cx="96.9" cy="411.4" r="1.3"/><circle cx="103.3" cy="409.1" r="1.3"/><circle cx="106.9" cy="409.1" r="1.3"/><circle cx="108.7" cy="411.4" r="1.3"/><circle cx="67.8" cy="412.7" r="1.3"/><circle cx="76.0" cy="412.7" r="1.3"/><circle cx="84.2" cy="413.6" r="1.3"/><circle cx="89.6" cy="413.6" r="1.3"/><circle cx="103.3" cy="413.2" r="1.3"/><circle cx="106.9" cy="413.6" r="1.3"/><circle cx="67.8" cy="415.0" r="1.3"/><circle cx="71.0" cy="415.0" r="1.3"/><circle cx="77.8" cy="415.5" r="1.3"/><circle cx="81.9" cy="415.9" r="1.3"/><circle cx="87.8" cy="416.4" r="1.3"/><circle cx="92.4" cy="415.9" r="1.3"/><circle cx="110.5" cy="417.3" r="1.3"/><circle cx="72.8" cy="418.6" r="1.3"/><circle cx="79.6" cy="417.7" r="1.3"/><circle cx="85.1" cy="418.2" r="1.3"/><circle cx="87.8" cy="419.1" r="1.3"/><circle cx="92.4" cy="418.6" r="1.3"/><circle cx="97.8" cy="418.6" r="1.3"/><circle cx="67.8" cy="419.5" r="1.3"/><circle cx="77.8" cy="420.9" r="1.3"/><circle cx="81.5" cy="421.4" r="1.3"/><circle cx="85.5" cy="421.8" r="1.3"/><circle cx="91.5" cy="421.4" r="1.3"/><circle cx="101.9" cy="420.9" r="1.3"/><circle cx="108.7" cy="421.4" r="1.3"/><circle cx="69.6" cy="424.5" r="1.3"/><circle cx="85.1" cy="424.1" r="1.3"/><circle cx="88.7" cy="424.5" r="1.3"/><circle cx="92.4" cy="424.1" r="1.3"/><circle cx="78.3" cy="425.9" r="1.3"/><circle cx="79.6" cy="426.4" r="1.3"/><circle cx="97.4" cy="426.8" r="1.3"/><circle cx="113.7" cy="428.2" r="1.3"/><circle cx="76.5" cy="428.6" r="1.3"/><circle cx="82.4" cy="429.5" r="1.3"/><circle cx="88.3" cy="429.5" r="1.3"/><circle cx="91.9" cy="428.6" r="1.3"/><circle cx="96.9" cy="429.1" r="1.3"/><circle cx="75.1" cy="431.4" r="1.3"/><circle cx="73.7" cy="433.2" r="1.3"/><circle cx="85.1" cy="433.2" r="1.3"/><circle cx="91.5" cy="431.8" r="1.3"/><circle cx="93.3" cy="433.2" r="1.3"/><circle cx="96.9" cy="430.9" r="1.3"/><circle cx="78.3" cy="434.5" r="1.3"/><circle cx="73.3" cy="437.3" r="1.3"/><circle cx="75.1" cy="436.4" r="1.3"/><circle cx="79.2" cy="438.2" r="1.3"/><circle cx="87.8" cy="438.6" r="1.3"/><circle cx="93.3" cy="438.2" r="1.3"/><circle cx="73.0" cy="438.1" r="1.3"/><circle cx="75.1" cy="436.5" r="1.3"/><circle cx="77.3" cy="438.7" r="1.3"/><circle cx="79.4" cy="439.8" r="1.3"/><circle cx="88.0" cy="439.8" r="1.3"/><circle cx="88.5" cy="440.8" r="1.3"/><circle cx="93.4" cy="438.1" r="1.3"/><circle cx="108.9" cy="440.8" r="1.3"/><circle cx="110.5" cy="443.5" r="1.3"/><circle cx="115.4" cy="445.7" r="1.3"/><circle cx="68.1" cy="441.9" r="1.3"/><circle cx="69.8" cy="443.3" r="1.3"/><circle cx="68.1" cy="447.8" r="1.3"/><circle cx="74.6" cy="446.7" r="1.3"/><circle cx="78.9" cy="446.7" r="1.3"/><circle cx="81.6" cy="445.7" r="1.3"/><circle cx="78.9" cy="449.4" r="1.3"/><circle cx="79.9" cy="447.8" r="1.3"/><circle cx="79.4" cy="452.1" r="1.3"/><circle cx="77.8" cy="453.2" r="1.3"/><circle cx="79.9" cy="454.2" r="1.3"/><circle cx="83.2" cy="453.0" r="1.3"/><circle cx="86.9" cy="445.7" r="1.3"/><circle cx="90.1" cy="447.8" r="1.3"/><circle cx="97.1" cy="445.7" r="1.3"/><circle cx="97.1" cy="447.8" r="1.3"/><circle cx="112.1" cy="447.8" r="1.3"/><circle cx="115.4" cy="455.3" r="1.3"/><circle cx="68.1" cy="454.2" r="1.3"/><circle cx="74.6" cy="458.0" r="1.3"/><circle cx="76.7" cy="458.0" r="1.3"/><circle cx="84.8" cy="456.4" r="1.3"/><circle cx="106.8" cy="456.4" r="1.3"/><circle cx="95.0" cy="460.1" r="1.3"/><circle cx="103.6" cy="460.1" r="1.3"/><circle cx="106.8" cy="460.1" r="1.3"/><circle cx="69.8" cy="462.8" r="1.3"/><circle cx="78.3" cy="461.8" r="1.3"/><circle cx="79.9" cy="465.0" r="1.3"/><circle cx="84.8" cy="463.9" r="1.3"/><circle cx="106.8" cy="465.0" r="1.3"/><circle cx="74.6" cy="467.7" r="1.3"/><circle cx="76.7" cy="470.3" r="1.3"/><circle cx="86.9" cy="470.1" r="1.3"/><circle cx="81.6" cy="472.5" r="1.3"/><circle cx="78.3" cy="474.6" r="1.3"/><circle cx="93.4" cy="476.2" r="1.3"/><circle cx="69.8" cy="482.1" r="1.3"/><circle cx="114.0" cy="392.9" r="1.3"/><circle cx="120.6" cy="395.3" r="1.3"/><circle cx="125.5" cy="395.3" r="1.3"/><circle cx="118.9" cy="402.0" r="1.3"/><circle cx="127.9" cy="400.2" r="1.3"/><circle cx="115.7" cy="406.9" r="1.3"/><circle cx="116.9" cy="407.6" r="1.3"/><circle cx="121.3" cy="408.1" r="1.3"/><circle cx="125.5" cy="406.9" r="1.3"/><circle cx="125.5" cy="410.0" r="1.3"/><circle cx="120.6" cy="412.5" r="1.3"/><circle cx="123.8" cy="414.9" r="1.3"/><circle cx="145.8" cy="396.6" r="1.3"/><circle cx="136.0" cy="416.7" r="1.3"/><circle cx="137.7" cy="415.9" r="1.3"/><circle cx="112.0" cy="422.8" r="1.3"/><circle cx="120.6" cy="424.7" r="1.3"/><circle cx="124.2" cy="427.2" r="1.3"/><circle cx="128.7" cy="425.7" r="1.3"/><circle cx="132.8" cy="426.5" r="1.3"/><circle cx="138.9" cy="428.2" r="1.3"/><circle cx="117.4" cy="428.2" r="1.3"/><circle cx="114.4" cy="427.7" r="1.3"/><circle cx="116.9" cy="435.5" r="1.3"/><circle cx="122.3" cy="438.0" r="1.3"/><circle cx="119.3" cy="442.9" r="1.3"/><circle cx="132.8" cy="442.9" r="1.3"/><circle cx="138.9" cy="442.9" r="1.3"/><circle cx="115.7" cy="445.3" r="1.3"/><circle cx="112.0" cy="447.8" r="1.3"/><circle cx="124.2" cy="450.2" r="1.3"/><circle cx="129.1" cy="450.2" r="1.3"/><circle cx="132.1" cy="449.2" r="1.3"/><circle cx="132.1" cy="452.2" r="1.3"/><circle cx="132.1" cy="455.1" r="1.3"/><circle cx="119.3" cy="452.2" r="1.3"/><circle cx="115.7" cy="455.1" r="1.3"/><circle cx="118.9" cy="454.1" r="1.3"/><circle cx="136.0" cy="459.0" r="1.3"/><circle cx="146.3" cy="462.5" r="1.3"/><circle cx="142.6" cy="474.7" r="1.3"/><circle cx="138.9" cy="484.5" r="1.3"/></g>
<g><path d="M68.30,405.00 L70.28,405.92 L72.25,406.83 L74.23,407.73 L76.21,408.61 L78.18,409.48 L80.16,410.33 L82.14,411.16 L84.12,411.97 L86.09,412.75 L88.07,413.51 L90.05,414.24 L92.02,414.94 L94.00,415.62 L95.98,416.26 L97.95,416.88 L99.93,417.47 L101.91,418.03 L103.88,418.58 L105.86,419.11 L107.84,419.62 L109.82,420.11 L111.79,420.60 L113.77,421.07 L115.75,421.53 L117.72,421.98 L119.70,422.43 L121.68,422.87 L123.65,423.30 L125.63,423.73 L127.61,424.16 L129.58,424.58 L131.56,425.00 L133.54,425.41 L135.52,425.82 L137.49,426.23 L139.47,426.64 L141.45,427.04 L143.42,427.45 L145.40,427.85" fill="none" stroke="#222" stroke-width="1.1"/>
<path d="M68.30,410.00 L70.28,410.69 L72.25,411.38 L74.23,412.08 L76.21,412.77 L78.18,413.46 L80.16,414.15 L82.14,414.85 L84.12,415.54 L86.09,416.23 L88.07,416.92 L90.05,417.62 L92.02,418.31 L94.00,419.00 L95.98,419.69 L97.95,420.38 L99.93,421.08 L101.91,421.77 L103.88,422.46 L105.86,423.15 L107.84,423.85 L109.82,424.54 L111.79,425.23 L113.77,425.92 L115.75,426.62 L117.72,427.31 L119.70,428.00 L121.68,428.69 L123.65,429.38 L125.63,430.08 L127.61,430.77 L129.58,431.46 L131.56,432.15 L133.54,432.85 L135.52,433.54 L137.49,434.23 L139.47,434.92 L141.45,435.62 L143.42,436.31 L145.40,437.00" fill="none" stroke="#222" stroke-width="1.1"/>
<path d="M68.30,415.00 L70.28,415.47 L72.25,415.94 L74.23,416.43 L76.21,416.93 L78.18,417.45 L80.16,417.98 L82.14,418.53 L84.12,419.11 L86.09,419.71 L88.07,420.33 L90.05,420.99 L92.02,421.67 L94.00,422.38 L95.98,423.12 L97.95,423.89 L99.93,424.69 L101.91,425.50 L103.88,426.34 L105.86,427.20 L107.84,428.07 L109.82,428.96 L111.79,429.87 L113.77,430.78 L115.75,431.70 L117.72,432.63 L119.70,433.57 L121.68,434.52 L123.65,435.47 L125.63,436.42 L127.61,437.38 L129.58,438.34 L131.56,439.31 L133.54,440.28 L135.52,441.25 L137.49,442.23 L139.47,443.21 L141.45,444.19 L143.42,445.17 L145.40,446.15" fill="none" stroke="#222" stroke-width="1.1"/></g>
<g fill="#111"><line x1="236.38" y1="477.39" x2="358.51" y2="477.39" stroke="#999" stroke-width="0.7" stroke-dasharray="1,1.3"/>
<path d="M236.38,367.50V489.60H358.51" fill="none" stroke="#4a4a4a" stroke-width="1.1"/>
<line x1="234.38" y1="489.60" x2="236.38" y2="489.60" stroke="#4a4a4a" stroke-width="1"/>
<text x="232.98" y="492.80" text-anchor="end" font-size="9.7" stroke="#111" stroke-width="0.28">0</text>
<line x1="234.38" y1="477.39" x2="236.38" y2="477.39" stroke="#4a4a4a" stroke-width="1"/>
<line x1="234.38" y1="428.55" x2="236.38" y2="428.55" stroke="#4a4a4a" stroke-width="1"/>
<text x="232.98" y="431.75" text-anchor="end" font-size="9.7" stroke="#111" stroke-width="0.28">50</text>
<line x1="234.38" y1="367.50" x2="236.38" y2="367.50" stroke="#4a4a4a" stroke-width="1"/>
<text x="232.98" y="370.70" text-anchor="end" font-size="9.7" textLength="12.6" lengthAdjust="spacingAndGlyphs" stroke="#111" stroke-width="0.28">100</text>
<line x1="247.00" y1="489.60" x2="247.00" y2="491.60" stroke="#4a4a4a" stroke-width="1"/>
<text x="247.00" y="501.70" text-anchor="middle" font-size="9.7" stroke="#111" stroke-width="0.28">30</text>
<line x1="262.93" y1="489.60" x2="262.93" y2="491.60" stroke="#4a4a4a" stroke-width="1"/>
<text x="262.93" y="501.70" text-anchor="middle" font-size="9.7" stroke="#111" stroke-width="0.28">60</text>
<line x1="278.86" y1="489.60" x2="278.86" y2="491.60" stroke="#4a4a4a" stroke-width="1"/>
<text x="278.86" y="501.70" text-anchor="middle" font-size="9.7" stroke="#111" stroke-width="0.28">90</text>
<line x1="294.79" y1="489.60" x2="294.79" y2="491.60" stroke="#4a4a4a" stroke-width="1"/>
<text x="294.79" y="501.70" text-anchor="middle" font-size="9.7" textLength="13.6" lengthAdjust="spacingAndGlyphs" stroke="#111" stroke-width="0.28">120</text>
<line x1="310.72" y1="489.60" x2="310.72" y2="491.60" stroke="#4a4a4a" stroke-width="1"/>
<text x="310.72" y="501.70" text-anchor="middle" font-size="9.7" textLength="13.6" lengthAdjust="spacingAndGlyphs" stroke="#111" stroke-width="0.28">150</text>
<line x1="326.65" y1="489.60" x2="326.65" y2="491.60" stroke="#4a4a4a" stroke-width="1"/>
<text x="326.65" y="501.70" text-anchor="middle" font-size="9.7" textLength="13.6" lengthAdjust="spacingAndGlyphs" stroke="#111" stroke-width="0.28">180</text>
<line x1="342.58" y1="489.60" x2="342.58" y2="491.60" stroke="#4a4a4a" stroke-width="1"/>
<text x="342.58" y="501.70" text-anchor="middle" font-size="9.7" textLength="13.6" lengthAdjust="spacingAndGlyphs" stroke="#111" stroke-width="0.28">210</text>
<line x1="358.51" y1="489.60" x2="358.51" y2="491.60" stroke="#4a4a4a" stroke-width="1"/>
<text x="358.51" y="501.70" text-anchor="middle" font-size="9.7" textLength="13.6" lengthAdjust="spacingAndGlyphs" stroke="#111" stroke-width="0.28">240</text>
<text x="228.30" y="516.50" font-size="11.2" textLength="139.10" lengthAdjust="spacingAndGlyphs" stroke="#111" stroke-width="0.28">Time after second dose (days)</text>
<text transform="translate(215.66,424.80) rotate(-90)" text-anchor="middle" font-size="11.2" textLength="72.20" lengthAdjust="spacingAndGlyphs" stroke="#111" stroke-width="0.28">Signal Spike %</text>
<text x="329.30" y="359.60" font-size="7.6" textLength="40.60" lengthAdjust="spacingAndGlyphs" stroke="#111" stroke-width="0.28"><tspan font-style="italic">r</tspan> = −0.5073</text>
<text x="329.30" y="369.40" font-size="7.6" textLength="41.20" lengthAdjust="spacingAndGlyphs" stroke="#111" stroke-width="0.28"><tspan font-style="italic">p</tspan> = &lt;0.0001</text></g>
<g fill="#008000"><circle cx="240.2" cy="367.5" r="1.3"/><circle cx="266.7" cy="369.9" r="1.3"/><circle cx="244.5" cy="375.8" r="1.3"/><circle cx="236.7" cy="378.1" r="1.3"/><circle cx="241.3" cy="378.1" r="1.3"/><circle cx="236.7" cy="380.8" r="1.3"/><circle cx="240.8" cy="380.8" r="1.3"/><circle cx="244.0" cy="379.9" r="1.3"/><circle cx="238.1" cy="382.2" r="1.3"/><circle cx="242.2" cy="383.1" r="1.3"/><circle cx="249.9" cy="382.0" r="1.3"/><circle cx="275.4" cy="382.0" r="1.3"/><circle cx="279.0" cy="383.1" r="1.3"/><circle cx="281.7" cy="385.8" r="1.3"/><circle cx="283.1" cy="379.9" r="1.3"/><circle cx="236.7" cy="385.8" r="1.3"/><circle cx="239.5" cy="387.2" r="1.3"/><circle cx="236.7" cy="389.0" r="1.3"/><circle cx="240.4" cy="388.5" r="1.3"/><circle cx="244.0" cy="388.1" r="1.3"/><circle cx="247.6" cy="389.0" r="1.3"/><circle cx="249.5" cy="389.0" r="1.3"/><circle cx="251.3" cy="391.7" r="1.3"/><circle cx="237.6" cy="391.3" r="1.3"/><circle cx="240.8" cy="391.3" r="1.3"/><circle cx="244.0" cy="393.1" r="1.3"/><circle cx="246.3" cy="393.1" r="1.3"/><circle cx="247.6" cy="391.3" r="1.3"/><circle cx="236.7" cy="394.5" r="1.3"/><circle cx="239.5" cy="394.9" r="1.3"/><circle cx="241.3" cy="395.4" r="1.3"/><circle cx="245.8" cy="394.9" r="1.3"/><circle cx="263.1" cy="394.0" r="1.3"/><circle cx="265.4" cy="395.8" r="1.3"/><circle cx="276.7" cy="395.8" r="1.3"/><circle cx="282.6" cy="395.8" r="1.3"/><circle cx="237.6" cy="397.6" r="1.3"/><circle cx="243.1" cy="396.7" r="1.3"/><circle cx="246.7" cy="397.2" r="1.3"/><circle cx="237.6" cy="401.3" r="1.3"/><circle cx="242.2" cy="402.2" r="1.3"/><circle cx="245.8" cy="400.4" r="1.3"/><circle cx="248.1" cy="401.3" r="1.3"/><circle cx="253.1" cy="401.7" r="1.3"/><circle cx="276.7" cy="400.4" r="1.3"/><circle cx="282.6" cy="401.3" r="1.3"/><circle cx="244.5" cy="403.1" r="1.3"/><circle cx="237.6" cy="400.7" r="1.3"/><circle cx="242.2" cy="402.5" r="1.3"/><circle cx="247.6" cy="398.9" r="1.3"/><circle cx="237.6" cy="404.4" r="1.3"/><circle cx="241.3" cy="404.4" r="1.3"/><circle cx="244.9" cy="405.3" r="1.3"/><circle cx="252.2" cy="405.3" r="1.3"/><circle cx="255.8" cy="404.8" r="1.3"/><circle cx="258.5" cy="407.1" r="1.3"/><circle cx="261.3" cy="407.5" r="1.3"/><circle cx="264.9" cy="405.3" r="1.3"/><circle cx="264.9" cy="407.1" r="1.3"/><circle cx="238.5" cy="408.0" r="1.3"/><circle cx="242.2" cy="408.0" r="1.3"/><circle cx="247.6" cy="408.9" r="1.3"/><circle cx="249.9" cy="408.0" r="1.3"/><circle cx="264.0" cy="409.4" r="1.3"/><circle cx="265.8" cy="410.3" r="1.3"/><circle cx="272.6" cy="408.9" r="1.3"/><circle cx="241.3" cy="411.6" r="1.3"/><circle cx="244.0" cy="412.5" r="1.3"/><circle cx="246.7" cy="411.6" r="1.3"/><circle cx="249.9" cy="411.6" r="1.3"/><circle cx="275.8" cy="411.6" r="1.3"/><circle cx="237.6" cy="413.9" r="1.3"/><circle cx="242.2" cy="414.8" r="1.3"/><circle cx="245.8" cy="413.9" r="1.3"/><circle cx="256.7" cy="413.9" r="1.3"/><circle cx="265.4" cy="414.4" r="1.3"/><circle cx="267.6" cy="414.8" r="1.3"/><circle cx="276.3" cy="414.8" r="1.3"/><circle cx="238.5" cy="416.2" r="1.3"/><circle cx="243.5" cy="417.1" r="1.3"/><circle cx="255.8" cy="416.6" r="1.3"/><circle cx="258.1" cy="417.5" r="1.3"/><circle cx="247.2" cy="418.5" r="1.3"/><circle cx="249.5" cy="419.4" r="1.3"/><circle cx="253.1" cy="419.8" r="1.3"/><circle cx="275.8" cy="419.4" r="1.3"/><circle cx="237.2" cy="420.7" r="1.3"/><circle cx="241.3" cy="421.6" r="1.3"/><circle cx="258.5" cy="421.2" r="1.3"/><circle cx="263.5" cy="421.2" r="1.3"/><circle cx="265.8" cy="421.6" r="1.3"/><circle cx="281.3" cy="425.3" r="1.3"/><circle cx="268.1" cy="423.5" r="1.3"/><circle cx="241.3" cy="422.5" r="1.3"/><circle cx="245.8" cy="424.8" r="1.3"/><circle cx="249.5" cy="424.8" r="1.3"/><circle cx="264.0" cy="424.8" r="1.3"/><circle cx="272.6" cy="425.7" r="1.3"/><circle cx="242.2" cy="426.2" r="1.3"/><circle cx="247.6" cy="427.1" r="1.3"/><circle cx="254.0" cy="428.5" r="1.3"/><circle cx="258.1" cy="427.1" r="1.3"/><circle cx="263.1" cy="428.5" r="1.3"/><circle cx="279.5" cy="429.4" r="1.3"/><circle cx="242.6" cy="429.4" r="1.3"/><circle cx="248.1" cy="429.4" r="1.3"/><circle cx="255.8" cy="430.3" r="1.3"/><circle cx="271.3" cy="432.5" r="1.3"/><circle cx="247.6" cy="432.5" r="1.3"/><circle cx="242.2" cy="433.5" r="1.3"/><circle cx="265.4" cy="433.0" r="1.3"/><circle cx="280.8" cy="434.8" r="1.3"/><circle cx="266.7" cy="435.7" r="1.3"/><circle cx="244.0" cy="437.1" r="1.3"/><circle cx="241.8" cy="433.7" r="1.3"/><circle cx="247.6" cy="432.6" r="1.3"/><circle cx="265.0" cy="433.7" r="1.3"/><circle cx="266.8" cy="434.9" r="1.3"/><circle cx="271.4" cy="433.1" r="1.3"/><circle cx="281.1" cy="434.9" r="1.3"/><circle cx="243.8" cy="438.3" r="1.3"/><circle cx="246.1" cy="439.8" r="1.3"/><circle cx="267.3" cy="437.2" r="1.3"/><circle cx="266.2" cy="438.9" r="1.3"/><circle cx="266.8" cy="440.0" r="1.3"/><circle cx="278.3" cy="438.3" r="1.3"/><circle cx="261.0" cy="441.2" r="1.3"/><circle cx="261.6" cy="442.3" r="1.3"/><circle cx="265.0" cy="443.3" r="1.3"/><circle cx="252.4" cy="447.9" r="1.3"/><circle cx="262.2" cy="446.9" r="1.3"/><circle cx="277.7" cy="446.9" r="1.3"/><circle cx="278.3" cy="448.1" r="1.3"/><circle cx="281.7" cy="448.1" r="1.3"/><circle cx="283.4" cy="445.8" r="1.3"/><circle cx="242.0" cy="449.2" r="1.3"/><circle cx="248.9" cy="449.2" r="1.3"/><circle cx="240.3" cy="451.8" r="1.3"/><circle cx="248.9" cy="451.5" r="1.3"/><circle cx="257.0" cy="450.4" r="1.3"/><circle cx="255.3" cy="452.9" r="1.3"/><circle cx="265.0" cy="451.8" r="1.3"/><circle cx="266.2" cy="452.9" r="1.3"/><circle cx="283.2" cy="454.4" r="1.3"/><circle cx="247.6" cy="456.7" r="1.3"/><circle cx="282.3" cy="459.0" r="1.3"/><circle cx="254.9" cy="469.9" r="1.3"/><circle cx="274.5" cy="474.8" r="1.3"/><circle cx="283.4" cy="476.3" r="1.3"/><circle cx="241.8" cy="482.3" r="1.3"/><circle cx="258.1" cy="484.9" r="1.3"/><circle cx="283.2" cy="379.6" r="1.3"/><circle cx="281.6" cy="385.8" r="1.3"/><circle cx="290.7" cy="393.1" r="1.3"/><circle cx="282.7" cy="395.7" r="1.3"/><circle cx="305.5" cy="396.7" r="1.3"/><circle cx="282.7" cy="401.9" r="1.3"/><circle cx="300.7" cy="401.9" r="1.3"/><circle cx="290.2" cy="406.4" r="1.3"/><circle cx="309.8" cy="406.4" r="1.3"/><circle cx="320.2" cy="406.4" r="1.3"/><circle cx="293.9" cy="410.3" r="1.3"/><circle cx="307.7" cy="411.6" r="1.3"/><circle cx="284.3" cy="415.0" r="1.3"/><circle cx="285.9" cy="415.0" r="1.3"/><circle cx="287.7" cy="413.9" r="1.3"/><circle cx="295.0" cy="415.0" r="1.3"/><circle cx="298.8" cy="413.9" r="1.3"/><circle cx="281.9" cy="426.0" r="1.3"/><circle cx="287.0" cy="425.0" r="1.3"/><circle cx="308.4" cy="426.3" r="1.3"/><circle cx="318.8" cy="427.3" r="1.3"/><circle cx="338.2" cy="420.1" r="1.3"/><circle cx="350.6" cy="421.2" r="1.3"/><circle cx="286.0" cy="425.7" r="1.3"/><circle cx="280.7" cy="429.5" r="1.3"/><circle cx="286.7" cy="432.2" r="1.3"/><circle cx="281.2" cy="434.7" r="1.3"/><circle cx="293.7" cy="436.2" r="1.3"/><circle cx="306.1" cy="434.7" r="1.3"/><circle cx="305.0" cy="438.4" r="1.3"/><circle cx="285.2" cy="439.6" r="1.3"/><circle cx="300.1" cy="440.7" r="1.3"/><circle cx="301.6" cy="443.6" r="1.3"/><circle cx="285.2" cy="443.2" r="1.3"/><circle cx="297.1" cy="443.6" r="1.3"/><circle cx="297.9" cy="445.6" r="1.3"/><circle cx="293.7" cy="445.9" r="1.3"/><circle cx="283.0" cy="445.9" r="1.3"/><circle cx="281.5" cy="448.1" r="1.3"/><circle cx="286.7" cy="448.1" r="1.3"/><circle cx="293.7" cy="448.1" r="1.3"/><circle cx="304.6" cy="448.1" r="1.3"/><circle cx="306.1" cy="445.6" r="1.3"/><circle cx="358.7" cy="441.7" r="1.3"/><circle cx="293.4" cy="450.3" r="1.3"/><circle cx="283.0" cy="454.1" r="1.3"/><circle cx="289.7" cy="455.6" r="1.3"/><circle cx="294.6" cy="454.1" r="1.3"/><circle cx="296.4" cy="453.0" r="1.3"/><circle cx="309.1" cy="452.6" r="1.3"/><circle cx="335.9" cy="454.1" r="1.3"/><circle cx="358.3" cy="456.6" r="1.3"/><circle cx="282.2" cy="459.0" r="1.3"/><circle cx="293.7" cy="458.5" r="1.3"/><circle cx="294.9" cy="457.1" r="1.3"/><circle cx="294.2" cy="460.5" r="1.3"/><circle cx="299.1" cy="460.5" r="1.3"/><circle cx="302.4" cy="457.8" r="1.3"/><circle cx="286.3" cy="462.6" r="1.3"/><circle cx="293.1" cy="464.1" r="1.3"/><circle cx="307.6" cy="461.5" r="1.3"/><circle cx="288.9" cy="465.3" r="1.3"/><circle cx="321.4" cy="465.3" r="1.3"/><circle cx="303.6" cy="467.5" r="1.3"/><circle cx="294.9" cy="469.7" r="1.3"/><circle cx="296.4" cy="472.7" r="1.3"/><circle cx="353.1" cy="475.0" r="1.3"/><circle cx="283.7" cy="476.4" r="1.3"/><circle cx="239.7" cy="405.5" r="1.3"/><circle cx="245.1" cy="412.5" r="1.3"/><circle cx="238.8" cy="385.9" r="1.3"/><circle cx="238.3" cy="385.7" r="1.3"/><circle cx="245.7" cy="381.6" r="1.3"/><circle cx="243.1" cy="385.2" r="1.3"/><circle cx="240.2" cy="394.6" r="1.3"/><circle cx="247.0" cy="402.2" r="1.3"/><circle cx="236.7" cy="387.9" r="1.3"/><circle cx="238.3" cy="413.5" r="1.3"/><circle cx="246.6" cy="410.7" r="1.3"/><circle cx="246.8" cy="408.0" r="1.3"/><circle cx="248.4" cy="410.1" r="1.3"/><circle cx="239.7" cy="412.5" r="1.3"/><circle cx="242.6" cy="408.5" r="1.3"/><circle cx="243.6" cy="394.5" r="1.3"/><circle cx="241.1" cy="394.5" r="1.3"/><circle cx="240.4" cy="381.0" r="1.3"/><circle cx="246.7" cy="410.3" r="1.3"/><circle cx="248.8" cy="405.7" r="1.3"/><circle cx="243.4" cy="408.2" r="1.3"/><circle cx="238.2" cy="405.1" r="1.3"/><circle cx="242.0" cy="383.6" r="1.3"/><circle cx="239.0" cy="398.5" r="1.3"/><circle cx="239.7" cy="395.8" r="1.3"/><circle cx="244.1" cy="393.0" r="1.3"/><circle cx="238.1" cy="397.1" r="1.3"/><circle cx="239.4" cy="386.1" r="1.3"/><circle cx="238.9" cy="391.8" r="1.3"/><circle cx="237.4" cy="404.0" r="1.3"/></g>
<g><path d="M236.70,399.85 L239.82,401.70 L242.94,403.53 L246.05,405.33 L249.17,407.12 L252.29,408.87 L255.41,410.59 L258.53,412.27 L261.64,413.91 L264.76,415.52 L267.88,417.08 L271.00,418.62 L274.12,420.12 L277.23,421.59 L280.35,423.04 L283.47,424.48 L286.59,425.89 L289.71,427.29 L292.82,428.68 L295.94,430.06 L299.06,431.43 L302.18,432.80 L305.29,434.16 L308.41,435.51 L311.53,436.86 L314.65,438.21 L317.77,439.55 L320.88,440.89 L324.00,442.23 L327.12,443.56 L330.24,444.90 L333.36,446.23 L336.47,447.56 L339.59,448.89 L342.71,450.22 L345.83,451.55 L348.95,452.88 L352.06,454.20 L355.18,455.53 L358.30,456.85" fill="none" stroke="#222" stroke-width="1.1"/>
<path d="M236.70,403.50 L239.82,405.14 L242.94,406.77 L246.05,408.41 L249.17,410.04 L252.29,411.68 L255.41,413.32 L258.53,414.95 L261.64,416.59 L264.76,418.22 L267.88,419.86 L271.00,421.49 L274.12,423.13 L277.23,424.77 L280.35,426.40 L283.47,428.04 L286.59,429.67 L289.71,431.31 L292.82,432.95 L295.94,434.58 L299.06,436.22 L302.18,437.85 L305.29,439.49 L308.41,441.13 L311.53,442.76 L314.65,444.40 L317.77,446.03 L320.88,447.67 L324.00,449.31 L327.12,450.94 L330.24,452.58 L333.36,454.21 L336.47,455.85 L339.59,457.48 L342.71,459.12 L345.83,460.76 L348.95,462.39 L352.06,464.03 L355.18,465.66 L358.30,467.30" fill="none" stroke="#222" stroke-width="1.1"/>
<path d="M236.70,407.15 L239.82,408.57 L242.94,410.02 L246.05,411.48 L249.17,412.97 L252.29,414.49 L255.41,416.04 L258.53,417.63 L261.64,419.26 L264.76,420.93 L267.88,422.63 L271.00,424.37 L274.12,426.14 L277.23,427.94 L280.35,429.76 L283.47,431.60 L286.59,433.46 L289.71,435.33 L292.82,437.21 L295.94,439.10 L299.06,441.00 L302.18,442.91 L305.29,444.82 L308.41,446.74 L311.53,448.66 L314.65,450.59 L317.77,452.52 L320.88,454.45 L324.00,456.38 L327.12,458.32 L330.24,460.25 L333.36,462.19 L336.47,464.13 L339.59,466.08 L342.71,468.02 L345.83,469.96 L348.95,471.91 L352.06,473.86 L355.18,475.80 L358.30,477.75" fill="none" stroke="#222" stroke-width="1.1"/></g>
<g fill="#111"><path d="M411.06,367.40V489.80H533.42" fill="none" stroke="#4a4a4a" stroke-width="1.1"/>
<line x1="409.06" y1="486.40" x2="411.06" y2="486.40" stroke="#4a4a4a" stroke-width="1"/>
<text x="407.66" y="489.60" text-anchor="end" font-size="9.7" stroke="#111" stroke-width="0.28">20</text>
<line x1="409.06" y1="452.40" x2="411.06" y2="452.40" stroke="#4a4a4a" stroke-width="1"/>
<text x="407.66" y="455.60" text-anchor="end" font-size="9.7" stroke="#111" stroke-width="0.28">40</text>
<line x1="409.06" y1="418.40" x2="411.06" y2="418.40" stroke="#4a4a4a" stroke-width="1"/>
<text x="407.66" y="421.60" text-anchor="end" font-size="9.7" stroke="#111" stroke-width="0.28">60</text>
<line x1="409.06" y1="384.40" x2="411.06" y2="384.40" stroke="#4a4a4a" stroke-width="1"/>
<text x="407.66" y="387.60" text-anchor="end" font-size="9.7" stroke="#111" stroke-width="0.28">80</text>
<line x1="421.70" y1="489.80" x2="421.70" y2="491.80" stroke="#4a4a4a" stroke-width="1"/>
<text x="421.70" y="501.90" text-anchor="middle" font-size="9.7" stroke="#111" stroke-width="0.28">30</text>
<line x1="437.66" y1="489.80" x2="437.66" y2="491.80" stroke="#4a4a4a" stroke-width="1"/>
<text x="437.66" y="501.90" text-anchor="middle" font-size="9.7" stroke="#111" stroke-width="0.28">60</text>
<line x1="453.62" y1="489.80" x2="453.62" y2="491.80" stroke="#4a4a4a" stroke-width="1"/>
<text x="453.62" y="501.90" text-anchor="middle" font-size="9.7" stroke="#111" stroke-width="0.28">90</text>
<line x1="469.58" y1="489.80" x2="469.58" y2="491.80" stroke="#4a4a4a" stroke-width="1"/>
<text x="469.58" y="501.90" text-anchor="middle" font-size="9.7" textLength="13.6" lengthAdjust="spacingAndGlyphs" stroke="#111" stroke-width="0.28">120</text>
<line x1="485.54" y1="489.80" x2="485.54" y2="491.80" stroke="#4a4a4a" stroke-width="1"/>
<text x="485.54" y="501.90" text-anchor="middle" font-size="9.7" textLength="13.6" lengthAdjust="spacingAndGlyphs" stroke="#111" stroke-width="0.28">150</text>
<line x1="501.50" y1="489.80" x2="501.50" y2="491.80" stroke="#4a4a4a" stroke-width="1"/>
<text x="501.50" y="501.90" text-anchor="middle" font-size="9.7" textLength="13.6" lengthAdjust="spacingAndGlyphs" stroke="#111" stroke-width="0.28">180</text>
<line x1="517.46" y1="489.80" x2="517.46" y2="491.80" stroke="#4a4a4a" stroke-width="1"/>
<text x="517.46" y="501.90" text-anchor="middle" font-size="9.7" textLength="13.6" lengthAdjust="spacingAndGlyphs" stroke="#111" stroke-width="0.28">210</text>
<line x1="533.42" y1="489.80" x2="533.42" y2="491.80" stroke="#4a4a4a" stroke-width="1"/>
<text x="533.42" y="501.90" text-anchor="middle" font-size="9.7" textLength="13.6" lengthAdjust="spacingAndGlyphs" stroke="#111" stroke-width="0.28">240</text>
<text x="403.20" y="516.40" font-size="11.2" textLength="138.90" lengthAdjust="spacingAndGlyphs" stroke="#111" stroke-width="0.28">Time after second dose (days)</text>
<text transform="translate(390.16,426.00) rotate(-90)" text-anchor="middle" font-size="11.2" textLength="49.80" lengthAdjust="spacingAndGlyphs" stroke="#111" stroke-width="0.28">Age (years)</text>
<text x="504.50" y="360.00" font-size="7.6" textLength="36.00" lengthAdjust="spacingAndGlyphs" stroke="#111" stroke-width="0.28"><tspan font-style="italic">r</tspan> = 0.0367</text>
<text x="504.50" y="369.60" font-size="7.6" textLength="36.50" lengthAdjust="spacingAndGlyphs" stroke="#111" stroke-width="0.28"><tspan font-style="italic">p</tspan> = 0.5475</text></g>
<g fill="#008000"><circle cx="412.9" cy="411.5" r="1.3"/><circle cx="461.2" cy="411.5" r="1.3"/><circle cx="449.4" cy="415.0" r="1.3"/><circle cx="433.1" cy="418.3" r="1.3"/><circle cx="435.3" cy="418.3" r="1.3"/><circle cx="437.4" cy="418.3" r="1.3"/><circle cx="430.9" cy="420.2" r="1.3"/><circle cx="430.9" cy="421.8" r="1.3"/><circle cx="415.1" cy="425.1" r="1.3"/><circle cx="417.3" cy="425.1" r="1.3"/><circle cx="429.8" cy="425.1" r="1.3"/><circle cx="440.9" cy="425.1" r="1.3"/><circle cx="456.9" cy="421.8" r="1.3"/><circle cx="456.5" cy="425.1" r="1.3"/><circle cx="460.3" cy="425.1" r="1.3"/><circle cx="464.2" cy="425.1" r="1.3"/><circle cx="431.4" cy="428.6" r="1.3"/><circle cx="447.3" cy="428.6" r="1.3"/><circle cx="438.5" cy="432.0" r="1.3"/><circle cx="433.6" cy="432.2" r="1.3"/><circle cx="433.1" cy="433.8" r="1.3"/><circle cx="451.1" cy="430.5" r="1.3"/><circle cx="450.5" cy="432.2" r="1.3"/><circle cx="451.6" cy="433.3" r="1.3"/><circle cx="453.3" cy="435.4" r="1.3"/><circle cx="467.4" cy="433.8" r="1.3"/><circle cx="424.4" cy="437.1" r="1.3"/><circle cx="427.6" cy="438.7" r="1.3"/><circle cx="439.6" cy="437.1" r="1.3"/><circle cx="440.2" cy="438.7" r="1.3"/><circle cx="416.7" cy="439.8" r="1.3"/><circle cx="416.6" cy="440.3" r="1.3"/><circle cx="412.8" cy="443.7" r="1.3"/><circle cx="418.7" cy="443.7" r="1.3"/><circle cx="432.1" cy="441.9" r="1.3"/><circle cx="427.3" cy="445.4" r="1.3"/><circle cx="422.5" cy="447.3" r="1.3"/><circle cx="422.5" cy="448.9" r="1.3"/><circle cx="422.5" cy="450.5" r="1.3"/><circle cx="433.8" cy="448.9" r="1.3"/><circle cx="440.0" cy="450.5" r="1.3"/><circle cx="416.6" cy="454.0" r="1.3"/><circle cx="420.3" cy="454.0" r="1.3"/><circle cx="447.5" cy="454.0" r="1.3"/><circle cx="440.0" cy="455.5" r="1.3"/><circle cx="419.8" cy="459.1" r="1.3"/><circle cx="422.5" cy="459.1" r="1.3"/><circle cx="424.1" cy="460.7" r="1.3"/><circle cx="427.3" cy="459.1" r="1.3"/><circle cx="430.5" cy="460.7" r="1.3"/><circle cx="432.7" cy="460.9" r="1.3"/><circle cx="424.1" cy="462.3" r="1.3"/><circle cx="417.7" cy="464.4" r="1.3"/><circle cx="423.0" cy="464.4" r="1.3"/><circle cx="440.2" cy="464.4" r="1.3"/><circle cx="446.6" cy="464.4" r="1.3"/><circle cx="457.4" cy="464.4" r="1.3"/><circle cx="412.3" cy="467.1" r="1.3"/><circle cx="416.6" cy="466.6" r="1.3"/><circle cx="420.9" cy="466.0" r="1.3"/><circle cx="424.1" cy="467.1" r="1.3"/><circle cx="432.7" cy="467.7" r="1.3"/><circle cx="443.4" cy="466.6" r="1.3"/><circle cx="411.2" cy="469.3" r="1.3"/><circle cx="415.0" cy="468.7" r="1.3"/><circle cx="419.8" cy="468.7" r="1.3"/><circle cx="423.6" cy="469.3" r="1.3"/><circle cx="436.4" cy="469.3" r="1.3"/><circle cx="450.9" cy="469.3" r="1.3"/><circle cx="455.7" cy="468.7" r="1.3"/><circle cx="415.5" cy="472.5" r="1.3"/><circle cx="421.4" cy="471.4" r="1.3"/><circle cx="426.8" cy="472.5" r="1.3"/><circle cx="430.5" cy="472.5" r="1.3"/><circle cx="439.7" cy="471.4" r="1.3"/><circle cx="411.8" cy="474.6" r="1.3"/><circle cx="416.6" cy="474.6" r="1.3"/><circle cx="423.0" cy="474.1" r="1.3"/><circle cx="437.5" cy="474.1" r="1.3"/><circle cx="440.2" cy="475.7" r="1.3"/><circle cx="442.3" cy="476.8" r="1.3"/><circle cx="411.2" cy="477.8" r="1.3"/><circle cx="415.0" cy="477.3" r="1.3"/><circle cx="418.7" cy="477.3" r="1.3"/><circle cx="424.1" cy="477.3" r="1.3"/><circle cx="437.0" cy="477.3" r="1.3"/><circle cx="440.2" cy="477.8" r="1.3"/><circle cx="450.4" cy="477.3" r="1.3"/><circle cx="411.8" cy="480.0" r="1.3"/><circle cx="416.0" cy="480.5" r="1.3"/><circle cx="419.3" cy="480.0" r="1.3"/><circle cx="422.5" cy="480.5" r="1.3"/><circle cx="430.0" cy="479.5" r="1.3"/><circle cx="439.1" cy="480.0" r="1.3"/><circle cx="441.3" cy="479.5" r="1.3"/><circle cx="453.1" cy="478.9" r="1.3"/><circle cx="411.8" cy="483.2" r="1.3"/><circle cx="415.5" cy="483.2" r="1.3"/><circle cx="420.3" cy="484.3" r="1.3"/><circle cx="442.3" cy="482.7" r="1.3"/><circle cx="446.6" cy="482.7" r="1.3"/><circle cx="452.0" cy="483.2" r="1.3"/><circle cx="455.7" cy="480.0" r="1.3"/><circle cx="412.3" cy="486.4" r="1.3"/><circle cx="416.0" cy="487.0" r="1.3"/><circle cx="430.0" cy="485.9" r="1.3"/><circle cx="450.9" cy="485.4" r="1.3"/><circle cx="436.4" cy="489.6" r="1.3"/><circle cx="441.8" cy="489.1" r="1.3"/><circle cx="412.8" cy="488.6" r="1.3"/><circle cx="413.5" cy="471.0" r="1.3"/><circle cx="414.0" cy="476.0" r="1.3"/><circle cx="417.5" cy="470.5" r="1.3"/><circle cx="413.0" cy="481.5" r="1.3"/><circle cx="418.0" cy="482.0" r="1.3"/><circle cx="414.5" cy="485.0" r="1.3"/><circle cx="468.2" cy="433.5" r="1.3"/><circle cx="468.8" cy="438.8" r="1.3"/><circle cx="468.8" cy="440.7" r="1.3"/><circle cx="472.2" cy="442.0" r="1.3"/><circle cx="483.2" cy="440.2" r="1.3"/><circle cx="484.7" cy="442.0" r="1.3"/><circle cx="480.3" cy="445.5" r="1.3"/><circle cx="471.7" cy="447.1" r="1.3"/><circle cx="474.6" cy="448.9" r="1.3"/><circle cx="463.6" cy="449.3" r="1.3"/><circle cx="468.4" cy="449.3" r="1.3"/><circle cx="471.6" cy="446.7" r="1.3"/><circle cx="463.9" cy="450.4" r="1.3"/><circle cx="468.5" cy="450.4" r="1.3"/><circle cx="473.1" cy="450.4" r="1.3"/><circle cx="475.1" cy="448.9" r="1.3"/><circle cx="473.9" cy="453.9" r="1.3"/><circle cx="461.6" cy="460.5" r="1.3"/><circle cx="468.5" cy="460.5" r="1.3"/><circle cx="469.3" cy="462.3" r="1.3"/><circle cx="482.3" cy="460.5" r="1.3"/><circle cx="457.8" cy="463.9" r="1.3"/><circle cx="462.4" cy="465.4" r="1.3"/><circle cx="465.5" cy="465.7" r="1.3"/><circle cx="468.5" cy="467.7" r="1.3"/><circle cx="455.5" cy="469.2" r="1.3"/><circle cx="469.3" cy="470.7" r="1.3"/><circle cx="468.5" cy="472.7" r="1.3"/><circle cx="525.0" cy="470.7" r="1.3"/><circle cx="532.7" cy="472.7" r="1.3"/><circle cx="457.8" cy="473.8" r="1.3"/><circle cx="483.8" cy="474.2" r="1.3"/><circle cx="481.2" cy="476.1" r="1.3"/><circle cx="471.6" cy="476.1" r="1.3"/><circle cx="457.1" cy="478.4" r="1.3"/><circle cx="459.3" cy="479.9" r="1.3"/><circle cx="455.5" cy="479.9" r="1.3"/><circle cx="470.8" cy="480.3" r="1.3"/><circle cx="480.7" cy="479.4" r="1.3"/><circle cx="482.3" cy="479.4" r="1.3"/><circle cx="493.7" cy="479.4" r="1.3"/><circle cx="496.5" cy="477.6" r="1.3"/><circle cx="528.1" cy="479.4" r="1.3"/><circle cx="466.2" cy="482.9" r="1.3"/><circle cx="476.9" cy="482.9" r="1.3"/><circle cx="479.2" cy="484.0" r="1.3"/><circle cx="457.1" cy="484.5" r="1.3"/><circle cx="460.9" cy="486.0" r="1.3"/><circle cx="465.0" cy="485.5" r="1.3"/><circle cx="469.0" cy="485.5" r="1.3"/><circle cx="454.8" cy="486.0" r="1.3"/><circle cx="461.6" cy="488.3" r="1.3"/><circle cx="475.4" cy="488.3" r="1.3"/><circle cx="495.2" cy="488.3" r="1.3"/><circle cx="470.0" cy="489.5" r="1.3"/><circle cx="475.4" cy="489.5" r="1.3"/><circle cx="478.7" cy="489.5" r="1.3"/><circle cx="510.5" cy="489.5" r="1.3"/><circle cx="512.8" cy="489.5" r="1.3"/><circle cx="533.1" cy="489.5" r="1.3"/><circle cx="418.1" cy="477.4" r="1.3"/><circle cx="424.9" cy="475.2" r="1.3"/><circle cx="418.9" cy="478.1" r="1.3"/><circle cx="414.2" cy="476.3" r="1.3"/><circle cx="420.6" cy="483.0" r="1.3"/><circle cx="412.9" cy="471.3" r="1.3"/><circle cx="412.8" cy="483.4" r="1.3"/><circle cx="421.6" cy="465.0" r="1.3"/><circle cx="425.7" cy="487.2" r="1.3"/><circle cx="421.0" cy="478.8" r="1.3"/><circle cx="413.8" cy="464.4" r="1.3"/><circle cx="419.2" cy="465.4" r="1.3"/><circle cx="414.3" cy="469.8" r="1.3"/><circle cx="411.9" cy="475.1" r="1.3"/><circle cx="417.9" cy="484.2" r="1.3"/><circle cx="419.0" cy="479.4" r="1.3"/><circle cx="418.7" cy="479.9" r="1.3"/><circle cx="418.1" cy="470.7" r="1.3"/><circle cx="426.0" cy="487.9" r="1.3"/><circle cx="423.7" cy="481.0" r="1.3"/><circle cx="416.1" cy="469.5" r="1.3"/><circle cx="415.7" cy="465.7" r="1.3"/><circle cx="422.6" cy="473.6" r="1.3"/><circle cx="423.8" cy="473.3" r="1.3"/><circle cx="425.4" cy="484.3" r="1.3"/><circle cx="411.5" cy="469.0" r="1.3"/><circle cx="424.7" cy="475.3" r="1.3"/><circle cx="425.7" cy="473.5" r="1.3"/><circle cx="412.6" cy="479.1" r="1.3"/><circle cx="422.8" cy="470.5" r="1.3"/></g>
<g><path d="M412.30,464.30 L415.40,464.42 L418.49,464.53 L421.59,464.62 L424.69,464.69 L427.79,464.73 L430.88,464.73 L433.98,464.70 L437.08,464.63 L440.18,464.51 L443.27,464.36 L446.37,464.17 L449.47,463.95 L452.57,463.70 L455.66,463.44 L458.76,463.15 L461.86,462.86 L464.96,462.56 L468.05,462.25 L471.15,461.93 L474.25,461.60 L477.35,461.27 L480.44,460.94 L483.54,460.61 L486.64,460.27 L489.74,459.93 L492.83,459.59 L495.93,459.24 L499.03,458.90 L502.13,458.55 L505.22,458.21 L508.32,457.86 L511.42,457.51 L514.52,457.16 L517.61,456.81 L520.71,456.46 L523.81,456.11 L526.91,455.76 L530.00,455.40 L533.10,455.05" fill="none" stroke="#222" stroke-width="1.1"/>
<path d="M412.30,467.10 L415.40,467.02 L418.49,466.94 L421.59,466.85 L424.69,466.77 L427.79,466.69 L430.88,466.61 L433.98,466.53 L437.08,466.44 L440.18,466.36 L443.27,466.28 L446.37,466.20 L449.47,466.12 L452.57,466.03 L455.66,465.95 L458.76,465.87 L461.86,465.79 L464.96,465.71 L468.05,465.62 L471.15,465.54 L474.25,465.46 L477.35,465.38 L480.44,465.29 L483.54,465.21 L486.64,465.13 L489.74,465.05 L492.83,464.97 L495.93,464.88 L499.03,464.80 L502.13,464.72 L505.22,464.64 L508.32,464.56 L511.42,464.47 L514.52,464.39 L517.61,464.31 L520.71,464.23 L523.81,464.15 L526.91,464.06 L530.00,463.98 L533.10,463.90" fill="none" stroke="#222" stroke-width="1.1"/>
<path d="M412.30,469.90 L415.40,469.61 L418.49,469.34 L421.59,469.09 L424.69,468.86 L427.79,468.65 L430.88,468.48 L433.98,468.35 L437.08,468.26 L440.18,468.21 L443.27,468.20 L446.37,468.23 L449.47,468.28 L452.57,468.37 L455.66,468.47 L458.76,468.58 L461.86,468.71 L464.96,468.85 L468.05,469.00 L471.15,469.16 L474.25,469.32 L477.35,469.48 L480.44,469.65 L483.54,469.82 L486.64,469.99 L489.74,470.17 L492.83,470.35 L495.93,470.52 L499.03,470.71 L502.13,470.89 L505.22,471.07 L508.32,471.25 L511.42,471.44 L514.52,471.62 L517.61,471.81 L520.71,472.00 L523.81,472.19 L526.91,472.37 L530.00,472.56 L533.10,472.75" fill="none" stroke="#222" stroke-width="1.1"/></g>
<text x="4" y="90.9" font-size="23.5" fill="#111" stroke="#111" stroke-width="0.28">A</text>
<text x="4" y="262" font-size="23.5" fill="#111" stroke="#111" stroke-width="0.28">B</text>
<text x="5.6" y="435.6" font-size="23.5" fill="#111" stroke="#111" stroke-width="0.28">C</text>
</svg></body></html>
